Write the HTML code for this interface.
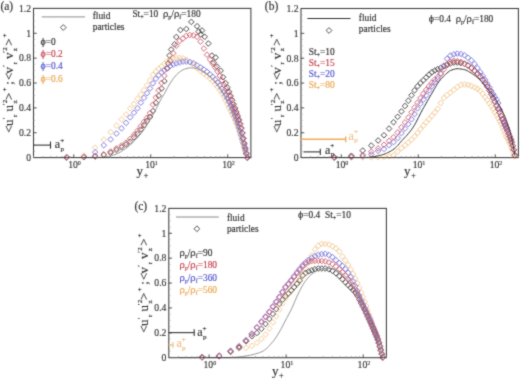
<!DOCTYPE html><html><head><meta charset="utf-8"><title>plot</title><style>
html,body{margin:0;padding:0;background:#fff;}
body{width:520px;height:380px;overflow:hidden;}
svg{display:block;}
text{font-family:"Liberation Serif",serif;fill:#333;stroke:currentColor;stroke-width:0.18px;color:#333;}
.tl{font-size:9.7px;fill:#3a3a3a;color:#3a3a3a;}
.sup{font-size:6px;}
.al{font-size:13px;fill:#333;}
.alsub{font-size:8px;}
.yl{font-size:11px;fill:#333;}
.ysup{font-size:7px;}
.ysub{font-size:7px;}
.pl{font-size:11.5px;fill:#333;}
.lg{font-size:9.4px;}
.sub{font-size:6px;}
.gr{font-family:"Liberation Sans",sans-serif;}
.ap{font-size:12px;}
.apsup{font-size:7px;}
.apsub{font-size:7px;}
</style></head><body>
<svg width="520" height="380" viewBox="0 0 520 380">
<defs><filter id="bl" x="0" y="0" width="520" height="380" filterUnits="userSpaceOnUse"><feConvolveMatrix order="3" kernelMatrix="0.0225 0.1050 0.0225 0.1050 0.4900 0.1050 0.0225 0.1050 0.0225" edgeMode="none" preserveAlpha="false"/></filter></defs>
<rect width="520" height="380" fill="#fff"/>
<g filter="url(#bl)">
<g>
<path d="M66.72 154.7L69.52 157.5L66.72 160.3L63.92 157.5Z" stroke="#f0c68c" stroke-width="0.9" fill="none"/>
<path d="M83.85 152.73L86.65 155.53L83.85 158.33L81.05 155.53Z" stroke="#f0c68c" stroke-width="0.9" fill="none"/>
<path d="M95.2 144.91L98 147.71L95.2 150.51L92.4 147.71Z" stroke="#f0c68c" stroke-width="0.9" fill="none"/>
<path d="M103.75 136.96L106.55 139.76L103.75 142.56L100.95 139.76Z" stroke="#f0c68c" stroke-width="0.9" fill="none"/>
<path d="M110.65 129.37L113.45 132.17L110.65 134.97L107.85 132.17Z" stroke="#f0c68c" stroke-width="0.9" fill="none"/>
<path d="M116.47 122.73L119.27 125.53L116.47 128.33L113.67 125.53Z" stroke="#f0c68c" stroke-width="0.9" fill="none"/>
<path d="M121.54 116.58L124.34 119.38L121.54 122.18L118.74 119.38Z" stroke="#f0c68c" stroke-width="0.9" fill="none"/>
<path d="M126.06 111.58L128.86 114.38L126.06 117.18L123.26 114.38Z" stroke="#f0c68c" stroke-width="0.9" fill="none"/>
<path d="M130.16 105.74L132.96 108.54L130.16 111.34L127.36 108.54Z" stroke="#f0c68c" stroke-width="0.9" fill="none"/>
<path d="M133.94 101.1L136.74 103.9L133.94 106.7L131.14 103.9Z" stroke="#f0c68c" stroke-width="0.9" fill="none"/>
<path d="M137.47 95.93L140.27 98.73L137.47 101.53L134.67 98.73Z" stroke="#f0c68c" stroke-width="0.9" fill="none"/>
<path d="M140.81 91.64L143.61 94.44L140.81 97.24L138.01 94.44Z" stroke="#f0c68c" stroke-width="0.9" fill="none"/>
<path d="M144 87.25L146.8 90.05L144 92.85L141.2 90.05Z" stroke="#f0c68c" stroke-width="0.9" fill="none"/>
<path d="M147.06 82.47L149.86 85.27L147.06 88.07L144.26 85.27Z" stroke="#f0c68c" stroke-width="0.9" fill="none"/>
<path d="M150.04 77.45L152.84 80.25L150.04 83.05L147.24 80.25Z" stroke="#f0c68c" stroke-width="0.9" fill="none"/>
<path d="M152.95 72.03L155.75 74.83L152.95 77.63L150.15 74.83Z" stroke="#f0c68c" stroke-width="0.9" fill="none"/>
<path d="M155.83 68.55L158.63 71.35L155.83 74.15L153.03 71.35Z" stroke="#f0c68c" stroke-width="0.9" fill="none"/>
<path d="M158.68 66L161.48 68.8L158.68 71.6L155.88 68.8Z" stroke="#f0c68c" stroke-width="0.9" fill="none"/>
<path d="M161.52 63.54L164.32 66.34L161.52 69.14L158.72 66.34Z" stroke="#f0c68c" stroke-width="0.9" fill="none"/>
<path d="M164.39 60.98L167.19 63.78L164.39 66.58L161.59 63.78Z" stroke="#f0c68c" stroke-width="0.9" fill="none"/>
<path d="M167.29 58.24L170.09 61.04L167.29 63.84L164.49 61.04Z" stroke="#f0c68c" stroke-width="0.9" fill="none"/>
<path d="M170.23 56.59L173.03 59.39L170.23 62.19L167.43 59.39Z" stroke="#f0c68c" stroke-width="0.9" fill="none"/>
<path d="M173.25 55.57L176.05 58.37L173.25 61.17L170.45 58.37Z" stroke="#f0c68c" stroke-width="0.9" fill="none"/>
<path d="M176.36 55.2L179.16 58L176.36 60.8L173.56 58Z" stroke="#f0c68c" stroke-width="0.9" fill="none"/>
<path d="M179.56 55.01L182.36 57.81L179.56 60.61L176.76 57.81Z" stroke="#f0c68c" stroke-width="0.9" fill="none"/>
<path d="M182.88 55.46L185.68 58.26L182.88 61.06L180.08 58.26Z" stroke="#f0c68c" stroke-width="0.9" fill="none"/>
<path d="M186.3 56.83L189.1 59.63L186.3 62.43L183.5 59.63Z" stroke="#f0c68c" stroke-width="0.9" fill="none"/>
<path d="M189.82 59.07L192.62 61.87L189.82 64.67L187.02 61.87Z" stroke="#f0c68c" stroke-width="0.9" fill="none"/>
<path d="M193.4 62.17L196.2 64.97L193.4 67.77L190.6 64.97Z" stroke="#f0c68c" stroke-width="0.9" fill="none"/>
<path d="M196.99 65.26L199.79 68.06L196.99 70.86L194.19 68.06Z" stroke="#f0c68c" stroke-width="0.9" fill="none"/>
<path d="M200.5 68.18L203.3 70.98L200.5 73.78L197.7 70.98Z" stroke="#f0c68c" stroke-width="0.9" fill="none"/>
<path d="M203.86 70.87L206.66 73.67L203.86 76.47L201.06 73.67Z" stroke="#f0c68c" stroke-width="0.9" fill="none"/>
<path d="M207.03 73.25L209.83 76.05L207.03 78.85L204.23 76.05Z" stroke="#f0c68c" stroke-width="0.9" fill="none"/>
<path d="M209.97 75.68L212.77 78.48L209.97 81.28L207.17 78.48Z" stroke="#f0c68c" stroke-width="0.9" fill="none"/>
<path d="M212.71 78.4L215.51 81.2L212.71 84L209.91 81.2Z" stroke="#f0c68c" stroke-width="0.9" fill="none"/>
<path d="M215.24 81.28L218.04 84.08L215.24 86.88L212.44 84.08Z" stroke="#f0c68c" stroke-width="0.9" fill="none"/>
<path d="M217.6 84.23L220.4 87.03L217.6 89.83L214.8 87.03Z" stroke="#f0c68c" stroke-width="0.9" fill="none"/>
<path d="M219.81 87.29L222.61 90.09L219.81 92.89L217.01 90.09Z" stroke="#f0c68c" stroke-width="0.9" fill="none"/>
<path d="M221.88 90.5L224.68 93.3L221.88 96.1L219.08 93.3Z" stroke="#f0c68c" stroke-width="0.9" fill="none"/>
<path d="M223.83 94.03L226.63 96.83L223.83 99.63L221.03 96.83Z" stroke="#f0c68c" stroke-width="0.9" fill="none"/>
<path d="M225.67 97.8L228.47 100.6L225.67 103.4L222.87 100.6Z" stroke="#f0c68c" stroke-width="0.9" fill="none"/>
<path d="M227.42 101.49L230.22 104.29L227.42 107.09L224.62 104.29Z" stroke="#f0c68c" stroke-width="0.9" fill="none"/>
<path d="M229.07 104.88L231.87 107.68L229.07 110.48L226.27 107.68Z" stroke="#f0c68c" stroke-width="0.9" fill="none"/>
<path d="M230.65 108.05L233.45 110.85L230.65 113.65L227.85 110.85Z" stroke="#f0c68c" stroke-width="0.9" fill="none"/>
<path d="M232.16 111.12L234.96 113.92L232.16 116.72L229.36 113.92Z" stroke="#f0c68c" stroke-width="0.9" fill="none"/>
<path d="M233.61 114.17L236.41 116.97L233.61 119.77L230.81 116.97Z" stroke="#f0c68c" stroke-width="0.9" fill="none"/>
<path d="M234.99 117.28L237.79 120.08L234.99 122.88L232.19 120.08Z" stroke="#f0c68c" stroke-width="0.9" fill="none"/>
<path d="M236.32 120.51L239.12 123.31L236.32 126.11L233.52 123.31Z" stroke="#f0c68c" stroke-width="0.9" fill="none"/>
<path d="M237.6 123.93L240.4 126.73L237.6 129.53L234.8 126.73Z" stroke="#f0c68c" stroke-width="0.9" fill="none"/>
<path d="M238.83 127.47L241.63 130.27L238.83 133.07L236.03 130.27Z" stroke="#f0c68c" stroke-width="0.9" fill="none"/>
<path d="M240.02 131.05L242.82 133.85L240.02 136.65L237.22 133.85Z" stroke="#f0c68c" stroke-width="0.9" fill="none"/>
<path d="M241.16 134.6L243.96 137.4L241.16 140.2L238.36 137.4Z" stroke="#f0c68c" stroke-width="0.9" fill="none"/>
<path d="M242.27 138.05L245.07 140.85L242.27 143.65L239.47 140.85Z" stroke="#f0c68c" stroke-width="0.9" fill="none"/>
<path d="M243.35 141.47L246.15 144.27L243.35 147.07L240.55 144.27Z" stroke="#f0c68c" stroke-width="0.9" fill="none"/>
<path d="M244.39 144.86L247.19 147.66L244.39 150.46L241.59 147.66Z" stroke="#f0c68c" stroke-width="0.9" fill="none"/>
<path d="M245.39 148.23L248.19 151.03L245.39 153.83L242.59 151.03Z" stroke="#f0c68c" stroke-width="0.9" fill="none"/>
<path d="M246.37 151.58L249.17 154.38L246.37 157.18L243.57 154.38Z" stroke="#f0c68c" stroke-width="0.9" fill="none"/>
<path d="M247.32 154.8L250.12 157.6L247.32 160.4L244.52 157.6Z" stroke="#f0c68c" stroke-width="0.9" fill="none"/>
<path d="M66.72 154.5L69.52 157.3L66.72 160.1L63.92 157.3Z" stroke="#3c3c3c" stroke-width="0.9" fill="none"/>
<path d="M83.85 154.4L86.65 157.2L83.85 160L81.05 157.2Z" stroke="#3c3c3c" stroke-width="0.9" fill="none"/>
<path d="M95.2 153.66L98 156.46L95.2 159.26L92.4 156.46Z" stroke="#3c3c3c" stroke-width="0.9" fill="none"/>
<path d="M103.75 152.12L106.55 154.92L103.75 157.72L100.95 154.92Z" stroke="#3c3c3c" stroke-width="0.9" fill="none"/>
<path d="M110.65 149.93L113.45 152.73L110.65 155.53L107.85 152.73Z" stroke="#3c3c3c" stroke-width="0.9" fill="none"/>
<path d="M116.47 147.19L119.27 149.99L116.47 152.79L113.67 149.99Z" stroke="#3c3c3c" stroke-width="0.9" fill="none"/>
<path d="M121.54 144.48L124.34 147.28L121.54 150.08L118.74 147.28Z" stroke="#3c3c3c" stroke-width="0.9" fill="none"/>
<path d="M126.06 141.79L128.86 144.59L126.06 147.39L123.26 144.59Z" stroke="#3c3c3c" stroke-width="0.9" fill="none"/>
<path d="M130.16 138.8L132.96 141.6L130.16 144.4L127.36 141.6Z" stroke="#3c3c3c" stroke-width="0.9" fill="none"/>
<path d="M133.94 134.47L136.74 137.27L133.94 140.07L131.14 137.27Z" stroke="#3c3c3c" stroke-width="0.9" fill="none"/>
<path d="M137.47 130.94L140.27 133.74L137.47 136.54L134.67 133.74Z" stroke="#3c3c3c" stroke-width="0.9" fill="none"/>
<path d="M140.81 126.62L143.61 129.42L140.81 132.22L138.01 129.42Z" stroke="#3c3c3c" stroke-width="0.9" fill="none"/>
<path d="M144 122.27L146.8 125.07L144 127.87L141.2 125.07Z" stroke="#3c3c3c" stroke-width="0.9" fill="none"/>
<path d="M147.06 118.08L149.86 120.88L147.06 123.68L144.26 120.88Z" stroke="#3c3c3c" stroke-width="0.9" fill="none"/>
<path d="M150.04 114.1L152.84 116.9L150.04 119.7L147.24 116.9Z" stroke="#3c3c3c" stroke-width="0.9" fill="none"/>
<path d="M152.95 108.22L155.75 111.02L152.95 113.82L150.15 111.02Z" stroke="#3c3c3c" stroke-width="0.9" fill="none"/>
<path d="M155.83 100.05L158.63 102.85L155.83 105.65L153.03 102.85Z" stroke="#3c3c3c" stroke-width="0.9" fill="none"/>
<path d="M158.68 93.05L161.48 95.85L158.68 98.65L155.88 95.85Z" stroke="#3c3c3c" stroke-width="0.9" fill="none"/>
<path d="M161.52 85.76L164.32 88.56L161.52 91.36L158.72 88.56Z" stroke="#3c3c3c" stroke-width="0.9" fill="none"/>
<path d="M164.39 78.37L167.19 81.17L164.39 83.97L161.59 81.17Z" stroke="#3c3c3c" stroke-width="0.9" fill="none"/>
<path d="M225.67 80.42L228.47 83.22L225.67 86.02L222.87 83.22Z" stroke="#3c3c3c" stroke-width="0.9" fill="none"/>
<path d="M227.42 84.75L230.22 87.55L227.42 90.35L224.62 87.55Z" stroke="#3c3c3c" stroke-width="0.9" fill="none"/>
<path d="M229.07 89.04L231.87 91.84L229.07 94.64L226.27 91.84Z" stroke="#3c3c3c" stroke-width="0.9" fill="none"/>
<path d="M230.65 93.25L233.45 96.05L230.65 98.85L227.85 96.05Z" stroke="#3c3c3c" stroke-width="0.9" fill="none"/>
<path d="M232.16 97.38L234.96 100.18L232.16 102.98L229.36 100.18Z" stroke="#3c3c3c" stroke-width="0.9" fill="none"/>
<path d="M233.61 101.38L236.41 104.18L233.61 106.98L230.81 104.18Z" stroke="#3c3c3c" stroke-width="0.9" fill="none"/>
<path d="M234.99 105.31L237.79 108.11L234.99 110.91L232.19 108.11Z" stroke="#3c3c3c" stroke-width="0.9" fill="none"/>
<path d="M236.32 109.21L239.12 112.01L236.32 114.81L233.52 112.01Z" stroke="#3c3c3c" stroke-width="0.9" fill="none"/>
<path d="M237.6 113.12L240.4 115.92L237.6 118.72L234.8 115.92Z" stroke="#3c3c3c" stroke-width="0.9" fill="none"/>
<path d="M238.83 116.94L241.63 119.74L238.83 122.54L236.03 119.74Z" stroke="#3c3c3c" stroke-width="0.9" fill="none"/>
<path d="M240.02 120.84L242.82 123.64L240.02 126.44L237.22 123.64Z" stroke="#3c3c3c" stroke-width="0.9" fill="none"/>
<path d="M241.16 125.06L243.96 127.86L241.16 130.66L238.36 127.86Z" stroke="#3c3c3c" stroke-width="0.9" fill="none"/>
<path d="M242.27 130.02L245.07 132.82L242.27 135.62L239.47 132.82Z" stroke="#3c3c3c" stroke-width="0.9" fill="none"/>
<path d="M243.35 135.51L246.15 138.31L243.35 141.11L240.55 138.31Z" stroke="#3c3c3c" stroke-width="0.9" fill="none"/>
<path d="M244.39 140.68L247.19 143.48L244.39 146.28L241.59 143.48Z" stroke="#3c3c3c" stroke-width="0.9" fill="none"/>
<path d="M245.39 145.58L248.19 148.38L245.39 151.18L242.59 148.38Z" stroke="#3c3c3c" stroke-width="0.9" fill="none"/>
<path d="M246.37 150.32L249.17 153.12L246.37 155.92L243.57 153.12Z" stroke="#3c3c3c" stroke-width="0.9" fill="none"/>
<path d="M247.32 154.8L250.12 157.6L247.32 160.4L244.52 157.6Z" stroke="#3c3c3c" stroke-width="0.9" fill="none"/>
<path d="M191.3 19.1L194.1 21.9L191.3 24.7L188.5 21.9Z" stroke="#3c3c3c" stroke-width="0.9" fill="none"/>
<path d="M197.1 23.4L199.9 26.2L197.1 29L194.3 26.2Z" stroke="#3c3c3c" stroke-width="0.9" fill="none"/>
<path d="M186.3 26.2L189.1 29L186.3 31.8L183.5 29Z" stroke="#3c3c3c" stroke-width="0.9" fill="none"/>
<path d="M180.4 27.2L183.2 30L180.4 32.8L177.6 30Z" stroke="#3c3c3c" stroke-width="0.9" fill="none"/>
<path d="M202 27.7L204.8 30.5L202 33.3L199.2 30.5Z" stroke="#3c3c3c" stroke-width="0.9" fill="none"/>
<path d="M198.6 28.7L201.4 31.5L198.6 34.3L195.8 31.5Z" stroke="#3c3c3c" stroke-width="0.9" fill="none"/>
<path d="M200.8 31.7L203.6 34.5L200.8 37.3L198 34.5Z" stroke="#3c3c3c" stroke-width="0.9" fill="none"/>
<path d="M204.7 34L207.5 36.8L204.7 39.6L201.9 36.8Z" stroke="#3c3c3c" stroke-width="0.9" fill="none"/>
<path d="M176.3 34.2L179.1 37L176.3 39.8L173.5 37Z" stroke="#3c3c3c" stroke-width="0.9" fill="none"/>
<path d="M208.4 40.7L211.2 43.5L208.4 46.3L205.6 43.5Z" stroke="#3c3c3c" stroke-width="0.9" fill="none"/>
<path d="M174.6 41.5L177.4 44.3L174.6 47.1L171.8 44.3Z" stroke="#3c3c3c" stroke-width="0.9" fill="none"/>
<path d="M171.2 46.7L174 49.5L171.2 52.3L168.4 49.5Z" stroke="#3c3c3c" stroke-width="0.9" fill="none"/>
<path d="M169.5 52.7L172.3 55.5L169.5 58.3L166.7 55.5Z" stroke="#3c3c3c" stroke-width="0.9" fill="none"/>
<path d="M211.9 52.8L214.7 55.6L211.9 58.4L209.1 55.6Z" stroke="#3c3c3c" stroke-width="0.9" fill="none"/>
<path d="M215.6 54.7L218.4 57.5L215.6 60.3L212.8 57.5Z" stroke="#3c3c3c" stroke-width="0.9" fill="none"/>
<path d="M213.6 59.7L216.4 62.5L213.6 65.3L210.8 62.5Z" stroke="#3c3c3c" stroke-width="0.9" fill="none"/>
<path d="M216.9 63.7L219.7 66.5L216.9 69.3L214.1 66.5Z" stroke="#3c3c3c" stroke-width="0.9" fill="none"/>
<path d="M220.6 67.9L223.4 70.7L220.6 73.5L217.8 70.7Z" stroke="#3c3c3c" stroke-width="0.9" fill="none"/>
<path d="M223 74.4L225.8 77.2L223 80L220.2 77.2Z" stroke="#3c3c3c" stroke-width="0.9" fill="none"/>
<path d="M168.2 60.7L171 63.5L168.2 66.3L165.4 63.5Z" stroke="#3c3c3c" stroke-width="0.9" fill="none"/>
<path d="M167 65.7L169.8 68.5L167 71.3L164.2 68.5Z" stroke="#3c3c3c" stroke-width="0.9" fill="none"/>
<path d="M66.72 154.7L69.52 157.5L66.72 160.3L63.92 157.5Z" stroke="#7070da" stroke-width="0.9" fill="none"/>
<path d="M83.85 154.11L86.65 156.91L83.85 159.71L81.05 156.91Z" stroke="#7070da" stroke-width="0.9" fill="none"/>
<path d="M95.2 149.47L98 152.27L95.2 155.07L92.4 152.27Z" stroke="#7070da" stroke-width="0.9" fill="none"/>
<path d="M103.75 142.46L106.55 145.26L103.75 148.06L100.95 145.26Z" stroke="#7070da" stroke-width="0.9" fill="none"/>
<path d="M110.65 136.59L113.45 139.39L110.65 142.19L107.85 139.39Z" stroke="#7070da" stroke-width="0.9" fill="none"/>
<path d="M116.47 130.75L119.27 133.55L116.47 136.35L113.67 133.55Z" stroke="#7070da" stroke-width="0.9" fill="none"/>
<path d="M121.54 125.55L124.34 128.35L121.54 131.15L118.74 128.35Z" stroke="#7070da" stroke-width="0.9" fill="none"/>
<path d="M126.06 120.06L128.86 122.86L126.06 125.66L123.26 122.86Z" stroke="#7070da" stroke-width="0.9" fill="none"/>
<path d="M130.16 114.53L132.96 117.33L130.16 120.13L127.36 117.33Z" stroke="#7070da" stroke-width="0.9" fill="none"/>
<path d="M133.94 110L136.74 112.8L133.94 115.6L131.14 112.8Z" stroke="#7070da" stroke-width="0.9" fill="none"/>
<path d="M137.47 105.49L140.27 108.29L137.47 111.09L134.67 108.29Z" stroke="#7070da" stroke-width="0.9" fill="none"/>
<path d="M140.81 99.9L143.61 102.7L140.81 105.5L138.01 102.7Z" stroke="#7070da" stroke-width="0.9" fill="none"/>
<path d="M144 95.07L146.8 97.87L144 100.67L141.2 97.87Z" stroke="#7070da" stroke-width="0.9" fill="none"/>
<path d="M147.06 90.35L149.86 93.15L147.06 95.95L144.26 93.15Z" stroke="#7070da" stroke-width="0.9" fill="none"/>
<path d="M150.04 85.63L152.84 88.43L150.04 91.23L147.24 88.43Z" stroke="#7070da" stroke-width="0.9" fill="none"/>
<path d="M152.95 80.49L155.75 83.29L152.95 86.09L150.15 83.29Z" stroke="#7070da" stroke-width="0.9" fill="none"/>
<path d="M155.83 75.98L158.63 78.78L155.83 81.58L153.03 78.78Z" stroke="#7070da" stroke-width="0.9" fill="none"/>
<path d="M158.68 72.48L161.48 75.28L158.68 78.08L155.88 75.28Z" stroke="#7070da" stroke-width="0.9" fill="none"/>
<path d="M161.52 69.67L164.32 72.47L161.52 75.27L158.72 72.47Z" stroke="#7070da" stroke-width="0.9" fill="none"/>
<path d="M164.39 67.37L167.19 70.17L164.39 72.97L161.59 70.17Z" stroke="#7070da" stroke-width="0.9" fill="none"/>
<path d="M167.29 65.27L170.09 68.07L167.29 70.87L164.49 68.07Z" stroke="#7070da" stroke-width="0.9" fill="none"/>
<path d="M170.23 63.19L173.03 65.99L170.23 68.79L167.43 65.99Z" stroke="#7070da" stroke-width="0.9" fill="none"/>
<path d="M173.25 61.71L176.05 64.51L173.25 67.31L170.45 64.51Z" stroke="#7070da" stroke-width="0.9" fill="none"/>
<path d="M176.36 60.57L179.16 63.37L176.36 66.17L173.56 63.37Z" stroke="#7070da" stroke-width="0.9" fill="none"/>
<path d="M179.56 59.58L182.36 62.38L179.56 65.18L176.76 62.38Z" stroke="#7070da" stroke-width="0.9" fill="none"/>
<path d="M182.88 58.82L185.68 61.62L182.88 64.42L180.08 61.62Z" stroke="#7070da" stroke-width="0.9" fill="none"/>
<path d="M186.3 58.8L189.1 61.6L186.3 64.4L183.5 61.6Z" stroke="#7070da" stroke-width="0.9" fill="none"/>
<path d="M189.82 59.28L192.62 62.08L189.82 64.88L187.02 62.08Z" stroke="#7070da" stroke-width="0.9" fill="none"/>
<path d="M193.4 60.4L196.2 63.2L193.4 66L190.6 63.2Z" stroke="#7070da" stroke-width="0.9" fill="none"/>
<path d="M196.99 62.47L199.79 65.27L196.99 68.07L194.19 65.27Z" stroke="#7070da" stroke-width="0.9" fill="none"/>
<path d="M200.5 64.67L203.3 67.47L200.5 70.27L197.7 67.47Z" stroke="#7070da" stroke-width="0.9" fill="none"/>
<path d="M203.86 66.69L206.66 69.49L203.86 72.29L201.06 69.49Z" stroke="#7070da" stroke-width="0.9" fill="none"/>
<path d="M207.03 68.95L209.83 71.75L207.03 74.55L204.23 71.75Z" stroke="#7070da" stroke-width="0.9" fill="none"/>
<path d="M209.97 71.52L212.77 74.32L209.97 77.12L207.17 74.32Z" stroke="#7070da" stroke-width="0.9" fill="none"/>
<path d="M212.71 74.07L215.51 76.87L212.71 79.67L209.91 76.87Z" stroke="#7070da" stroke-width="0.9" fill="none"/>
<path d="M215.24 76.72L218.04 79.52L215.24 82.32L212.44 79.52Z" stroke="#7070da" stroke-width="0.9" fill="none"/>
<path d="M217.6 79.55L220.4 82.35L217.6 85.15L214.8 82.35Z" stroke="#7070da" stroke-width="0.9" fill="none"/>
<path d="M219.81 82.61L222.61 85.41L219.81 88.21L217.01 85.41Z" stroke="#7070da" stroke-width="0.9" fill="none"/>
<path d="M221.88 85.85L224.68 88.65L221.88 91.45L219.08 88.65Z" stroke="#7070da" stroke-width="0.9" fill="none"/>
<path d="M223.83 89.15L226.63 91.95L223.83 94.75L221.03 91.95Z" stroke="#7070da" stroke-width="0.9" fill="none"/>
<path d="M225.67 92.5L228.47 95.3L225.67 98.1L222.87 95.3Z" stroke="#7070da" stroke-width="0.9" fill="none"/>
<path d="M227.42 95.84L230.22 98.64L227.42 101.44L224.62 98.64Z" stroke="#7070da" stroke-width="0.9" fill="none"/>
<path d="M229.07 99.21L231.87 102.01L229.07 104.81L226.27 102.01Z" stroke="#7070da" stroke-width="0.9" fill="none"/>
<path d="M230.65 102.66L233.45 105.46L230.65 108.26L227.85 105.46Z" stroke="#7070da" stroke-width="0.9" fill="none"/>
<path d="M232.16 106.2L234.96 109L232.16 111.8L229.36 109Z" stroke="#7070da" stroke-width="0.9" fill="none"/>
<path d="M233.61 109.8L236.41 112.6L233.61 115.4L230.81 112.6Z" stroke="#7070da" stroke-width="0.9" fill="none"/>
<path d="M234.99 113.43L237.79 116.23L234.99 119.03L232.19 116.23Z" stroke="#7070da" stroke-width="0.9" fill="none"/>
<path d="M236.32 117.11L239.12 119.91L236.32 122.71L233.52 119.91Z" stroke="#7070da" stroke-width="0.9" fill="none"/>
<path d="M237.6 120.87L240.4 123.67L237.6 126.47L234.8 123.67Z" stroke="#7070da" stroke-width="0.9" fill="none"/>
<path d="M238.83 124.69L241.63 127.49L238.83 130.29L236.03 127.49Z" stroke="#7070da" stroke-width="0.9" fill="none"/>
<path d="M240.02 128.54L242.82 131.34L240.02 134.14L237.22 131.34Z" stroke="#7070da" stroke-width="0.9" fill="none"/>
<path d="M241.16 132.36L243.96 135.16L241.16 137.96L238.36 135.16Z" stroke="#7070da" stroke-width="0.9" fill="none"/>
<path d="M242.27 136.14L245.07 138.94L242.27 141.74L239.47 138.94Z" stroke="#7070da" stroke-width="0.9" fill="none"/>
<path d="M243.35 139.91L246.15 142.71L243.35 145.51L240.55 142.71Z" stroke="#7070da" stroke-width="0.9" fill="none"/>
<path d="M244.39 143.68L247.19 146.48L244.39 149.28L241.59 146.48Z" stroke="#7070da" stroke-width="0.9" fill="none"/>
<path d="M245.39 147.44L248.19 150.24L245.39 153.04L242.59 150.24Z" stroke="#7070da" stroke-width="0.9" fill="none"/>
<path d="M246.37 151.18L249.17 153.98L246.37 156.78L243.57 153.98Z" stroke="#7070da" stroke-width="0.9" fill="none"/>
<path d="M247.32 154.8L250.12 157.6L247.32 160.4L244.52 157.6Z" stroke="#7070da" stroke-width="0.9" fill="none"/>
<path d="M66.72 154.5L69.52 157.3L66.72 160.1L63.92 157.3Z" stroke="#cc5a6a" stroke-width="0.9" fill="none"/>
<path d="M83.85 154.2L86.65 157L83.85 159.8L81.05 157Z" stroke="#cc5a6a" stroke-width="0.9" fill="none"/>
<path d="M95.2 153.15L98 155.95L95.2 158.75L92.4 155.95Z" stroke="#cc5a6a" stroke-width="0.9" fill="none"/>
<path d="M103.75 151.61L106.55 154.41L103.75 157.21L100.95 154.41Z" stroke="#cc5a6a" stroke-width="0.9" fill="none"/>
<path d="M110.65 148.69L113.45 151.49L110.65 154.29L107.85 151.49Z" stroke="#cc5a6a" stroke-width="0.9" fill="none"/>
<path d="M116.47 145.61L119.27 148.41L116.47 151.21L113.67 148.41Z" stroke="#cc5a6a" stroke-width="0.9" fill="none"/>
<path d="M121.54 142.84L124.34 145.64L121.54 148.44L118.74 145.64Z" stroke="#cc5a6a" stroke-width="0.9" fill="none"/>
<path d="M126.06 139.95L128.86 142.75L126.06 145.55L123.26 142.75Z" stroke="#cc5a6a" stroke-width="0.9" fill="none"/>
<path d="M130.16 136.16L132.96 138.96L130.16 141.76L127.36 138.96Z" stroke="#cc5a6a" stroke-width="0.9" fill="none"/>
<path d="M133.94 131.99L136.74 134.79L133.94 137.59L131.14 134.79Z" stroke="#cc5a6a" stroke-width="0.9" fill="none"/>
<path d="M137.47 127.94L140.27 130.74L137.47 133.54L134.67 130.74Z" stroke="#cc5a6a" stroke-width="0.9" fill="none"/>
<path d="M140.81 123.4L143.61 126.2L140.81 129L138.01 126.2Z" stroke="#cc5a6a" stroke-width="0.9" fill="none"/>
<path d="M144 119.04L146.8 121.84L144 124.64L141.2 121.84Z" stroke="#cc5a6a" stroke-width="0.9" fill="none"/>
<path d="M147.06 114.9L149.86 117.7L147.06 120.5L144.26 117.7Z" stroke="#cc5a6a" stroke-width="0.9" fill="none"/>
<path d="M150.04 110.16L152.84 112.96L150.04 115.76L147.24 112.96Z" stroke="#cc5a6a" stroke-width="0.9" fill="none"/>
<path d="M152.95 101.75L155.75 104.55L152.95 107.35L150.15 104.55Z" stroke="#cc5a6a" stroke-width="0.9" fill="none"/>
<path d="M155.83 94.64L158.63 97.44L155.83 100.24L153.03 97.44Z" stroke="#cc5a6a" stroke-width="0.9" fill="none"/>
<path d="M158.68 87.52L161.48 90.32L158.68 93.12L155.88 90.32Z" stroke="#cc5a6a" stroke-width="0.9" fill="none"/>
<path d="M161.52 80.07L164.32 82.87L161.52 85.67L158.72 82.87Z" stroke="#cc5a6a" stroke-width="0.9" fill="none"/>
<path d="M164.39 72.98L167.19 75.78L164.39 78.58L161.59 75.78Z" stroke="#cc5a6a" stroke-width="0.9" fill="none"/>
<path d="M167.29 65.55L170.09 68.35L167.29 71.15L164.49 68.35Z" stroke="#cc5a6a" stroke-width="0.9" fill="none"/>
<path d="M170.23 58.12L173.03 60.92L170.23 63.72L167.43 60.92Z" stroke="#cc5a6a" stroke-width="0.9" fill="none"/>
<path d="M173.25 50.44L176.05 53.24L173.25 56.04L170.45 53.24Z" stroke="#cc5a6a" stroke-width="0.9" fill="none"/>
<path d="M176.36 42.87L179.16 45.67L176.36 48.47L173.56 45.67Z" stroke="#cc5a6a" stroke-width="0.9" fill="none"/>
<path d="M179.56 38.13L182.36 40.93L179.56 43.73L176.76 40.93Z" stroke="#cc5a6a" stroke-width="0.9" fill="none"/>
<path d="M182.88 35.75L185.68 38.55L182.88 41.35L180.08 38.55Z" stroke="#cc5a6a" stroke-width="0.9" fill="none"/>
<path d="M186.3 33.14L189.1 35.94L186.3 38.74L183.5 35.94Z" stroke="#cc5a6a" stroke-width="0.9" fill="none"/>
<path d="M189.82 32.22L192.62 35.02L189.82 37.82L187.02 35.02Z" stroke="#cc5a6a" stroke-width="0.9" fill="none"/>
<path d="M193.4 32.58L196.2 35.38L193.4 38.18L190.6 35.38Z" stroke="#cc5a6a" stroke-width="0.9" fill="none"/>
<path d="M196.99 34.04L199.79 36.84L196.99 39.64L194.19 36.84Z" stroke="#cc5a6a" stroke-width="0.9" fill="none"/>
<path d="M200.5 38.79L203.3 41.59L200.5 44.39L197.7 41.59Z" stroke="#cc5a6a" stroke-width="0.9" fill="none"/>
<path d="M203.86 45.72L206.66 48.52L203.86 51.32L201.06 48.52Z" stroke="#cc5a6a" stroke-width="0.9" fill="none"/>
<path d="M207.03 51.92L209.83 54.72L207.03 57.52L204.23 54.72Z" stroke="#cc5a6a" stroke-width="0.9" fill="none"/>
<path d="M209.97 56.66L212.77 59.46L209.97 62.26L207.17 59.46Z" stroke="#cc5a6a" stroke-width="0.9" fill="none"/>
<path d="M212.71 60.82L215.51 63.62L212.71 66.42L209.91 63.62Z" stroke="#cc5a6a" stroke-width="0.9" fill="none"/>
<path d="M215.24 64.7L218.04 67.5L215.24 70.3L212.44 67.5Z" stroke="#cc5a6a" stroke-width="0.9" fill="none"/>
<path d="M217.6 68.62L220.4 71.42L217.6 74.22L214.8 71.42Z" stroke="#cc5a6a" stroke-width="0.9" fill="none"/>
<path d="M219.81 73.1L222.61 75.9L219.81 78.7L217.01 75.9Z" stroke="#cc5a6a" stroke-width="0.9" fill="none"/>
<path d="M221.88 77.54L224.68 80.34L221.88 83.14L219.08 80.34Z" stroke="#cc5a6a" stroke-width="0.9" fill="none"/>
<path d="M223.83 81.83L226.63 84.63L223.83 87.43L221.03 84.63Z" stroke="#cc5a6a" stroke-width="0.9" fill="none"/>
<path d="M225.67 85.6L228.47 88.4L225.67 91.2L222.87 88.4Z" stroke="#cc5a6a" stroke-width="0.9" fill="none"/>
<path d="M227.42 89.15L230.22 91.95L227.42 94.75L224.62 91.95Z" stroke="#cc5a6a" stroke-width="0.9" fill="none"/>
<path d="M229.07 92.87L231.87 95.67L229.07 98.47L226.27 95.67Z" stroke="#cc5a6a" stroke-width="0.9" fill="none"/>
<path d="M230.65 96.65L233.45 99.45L230.65 102.25L227.85 99.45Z" stroke="#cc5a6a" stroke-width="0.9" fill="none"/>
<path d="M232.16 100.36L234.96 103.16L232.16 105.96L229.36 103.16Z" stroke="#cc5a6a" stroke-width="0.9" fill="none"/>
<path d="M233.61 103.88L236.41 106.68L233.61 109.48L230.81 106.68Z" stroke="#cc5a6a" stroke-width="0.9" fill="none"/>
<path d="M234.99 107.29L237.79 110.09L234.99 112.89L232.19 110.09Z" stroke="#cc5a6a" stroke-width="0.9" fill="none"/>
<path d="M236.32 110.73L239.12 113.53L236.32 116.33L233.52 113.53Z" stroke="#cc5a6a" stroke-width="0.9" fill="none"/>
<path d="M237.6 114.27L240.4 117.07L237.6 119.87L234.8 117.07Z" stroke="#cc5a6a" stroke-width="0.9" fill="none"/>
<path d="M238.83 117.85L241.63 120.65L238.83 123.45L236.03 120.65Z" stroke="#cc5a6a" stroke-width="0.9" fill="none"/>
<path d="M240.02 121.59L242.82 124.39L240.02 127.19L237.22 124.39Z" stroke="#cc5a6a" stroke-width="0.9" fill="none"/>
<path d="M241.16 125.68L243.96 128.48L241.16 131.28L238.36 128.48Z" stroke="#cc5a6a" stroke-width="0.9" fill="none"/>
<path d="M242.27 130.53L245.07 133.33L242.27 136.13L239.47 133.33Z" stroke="#cc5a6a" stroke-width="0.9" fill="none"/>
<path d="M243.35 135.96L246.15 138.76L243.35 141.56L240.55 138.76Z" stroke="#cc5a6a" stroke-width="0.9" fill="none"/>
<path d="M244.39 141.04L247.19 143.84L244.39 146.64L241.59 143.84Z" stroke="#cc5a6a" stroke-width="0.9" fill="none"/>
<path d="M245.39 145.83L248.19 148.63L245.39 151.43L242.59 148.63Z" stroke="#cc5a6a" stroke-width="0.9" fill="none"/>
<path d="M246.37 150.45L249.17 153.25L246.37 156.05L243.57 153.25Z" stroke="#cc5a6a" stroke-width="0.9" fill="none"/>
<path d="M247.32 154.8L250.12 157.6L247.32 160.4L244.52 157.6Z" stroke="#cc5a6a" stroke-width="0.9" fill="none"/>
<polyline points="43.12,157.5 44.4,157.5 45.69,157.5 46.97,157.5 48.26,157.5 49.54,157.5 50.83,157.5 52.11,157.5 53.4,157.5 54.68,157.5 55.96,157.5 57.25,157.5 58.53,157.5 59.82,157.5 61.1,157.5 62.39,157.5 63.67,157.5 64.96,157.5 66.24,157.5 67.53,157.5 68.81,157.5 70.1,157.5 71.38,157.5 72.67,157.5 73.95,157.5 75.23,157.5 76.52,157.5 77.8,157.5 79.09,157.5 80.37,157.5 81.66,157.5 82.94,157.5 84.23,157.5 85.51,157.5 86.8,157.5 88.08,157.5 89.37,157.5 90.65,157.5 91.94,157.5 93.22,157.5 94.5,157.5 95.79,157.5 97.07,157.47 98.36,157.43 99.64,157.37 100.93,157.3 102.21,157.21 103.5,157.12 104.78,157.02 106.07,156.89 107.35,156.7 108.64,156.44 109.92,156.14 111.2,155.8 112.49,155.42 113.77,155.01 115.06,154.58 116.34,154.11 117.63,153.54 118.91,152.88 120.2,152.15 121.48,151.36 122.77,150.51 124.05,149.61 125.34,148.68 126.62,147.73 127.91,146.77 129.19,145.74 130.47,144.63 131.76,143.45 133.04,142.2 134.33,140.91 135.61,139.57 136.9,138.2 138.18,136.8 139.47,135.35 140.75,133.83 142.04,132.23 143.32,130.52 144.61,128.7 145.89,126.74 147.17,124.66 148.46,122.51 149.74,120.31 151.03,118.11 152.31,115.86 153.6,113.54 154.88,111.17 156.17,108.7 157.45,106.08 158.74,103.45 160.02,100.96 161.31,98.69 162.59,96.55 163.88,94.42 165.16,92.22 166.44,89.86 167.73,87.45 169.01,85.14 170.3,83.05 171.58,81.07 172.87,79.21 174.15,77.51 175.44,76.01 176.72,74.63 178.01,73.37 179.29,72.25 180.58,71.31 181.86,70.47 183.14,69.73 184.43,69.16 185.71,68.76 187,68.4 188.28,68.1 189.57,67.89 190.85,67.8 192.14,67.85 193.42,68.01 194.71,68.23 195.99,68.5 197.28,68.86 198.56,69.37 199.85,70.01 201.13,70.74 202.41,71.52 203.7,72.31 204.98,73.13 206.27,74.02 207.55,74.99 208.84,76.02 210.12,77.12 211.41,78.28 212.69,79.48 213.98,80.76 215.26,82.12 216.55,83.58 217.83,85.14 219.12,86.79 220.4,88.56 221.68,90.49 222.97,92.56 224.25,94.78 225.54,97.14 226.82,99.62 228.11,102.22 229.39,105.01 230.68,108.03 231.96,111.22 233.25,114.56 234.53,118 235.82,121.49 237.1,125.08 238.38,128.84 239.67,132.73 240.95,136.71 242.24,140.76 243.52,144.88 244.81,149.12 246.09,153.45 247.38,157.6" fill="none" stroke="#8a8a8a" stroke-width="0.9"/>
</g>
<g>
<path d="M334.22 154.8L337.02 157.6L334.22 160.4L331.42 157.6Z" stroke="#f0c68c" stroke-width="0.9" fill="none"/>
<path d="M351.35 154.72L354.15 157.52L351.35 160.32L348.55 157.52Z" stroke="#f0c68c" stroke-width="0.9" fill="none"/>
<path d="M362.7 154.6L365.5 157.4L362.7 160.2L359.9 157.4Z" stroke="#f0c68c" stroke-width="0.9" fill="none"/>
<path d="M371.25 154.46L374.05 157.26L371.25 160.06L368.45 157.26Z" stroke="#f0c68c" stroke-width="0.9" fill="none"/>
<path d="M378.15 154.27L380.95 157.07L378.15 159.87L375.35 157.07Z" stroke="#f0c68c" stroke-width="0.9" fill="none"/>
<path d="M383.97 153.97L386.77 156.77L383.97 159.57L381.17 156.77Z" stroke="#f0c68c" stroke-width="0.9" fill="none"/>
<path d="M389.04 153.4L391.84 156.2L389.04 159L386.24 156.2Z" stroke="#f0c68c" stroke-width="0.9" fill="none"/>
<path d="M393.56 152.49L396.36 155.29L393.56 158.09L390.76 155.29Z" stroke="#f0c68c" stroke-width="0.9" fill="none"/>
<path d="M397.66 148.8L400.46 151.6L397.66 154.4L394.86 151.6Z" stroke="#f0c68c" stroke-width="0.9" fill="none"/>
<path d="M401.44 145.27L404.24 148.07L401.44 150.87L398.64 148.07Z" stroke="#f0c68c" stroke-width="0.9" fill="none"/>
<path d="M404.97 142.49L407.77 145.29L404.97 148.09L402.17 145.29Z" stroke="#f0c68c" stroke-width="0.9" fill="none"/>
<path d="M408.31 139.7L411.11 142.5L408.31 145.3L405.51 142.5Z" stroke="#f0c68c" stroke-width="0.9" fill="none"/>
<path d="M411.5 136.88L414.3 139.68L411.5 142.48L408.7 139.68Z" stroke="#f0c68c" stroke-width="0.9" fill="none"/>
<path d="M414.56 133.66L417.36 136.46L414.56 139.26L411.76 136.46Z" stroke="#f0c68c" stroke-width="0.9" fill="none"/>
<path d="M417.54 130.01L420.34 132.81L417.54 135.61L414.74 132.81Z" stroke="#f0c68c" stroke-width="0.9" fill="none"/>
<path d="M420.45 126.37L423.25 129.17L420.45 131.97L417.65 129.17Z" stroke="#f0c68c" stroke-width="0.9" fill="none"/>
<path d="M423.33 122.79L426.13 125.59L423.33 128.39L420.53 125.59Z" stroke="#f0c68c" stroke-width="0.9" fill="none"/>
<path d="M426.18 119.53L428.98 122.33L426.18 125.13L423.38 122.33Z" stroke="#f0c68c" stroke-width="0.9" fill="none"/>
<path d="M429.02 116.33L431.82 119.13L429.02 121.93L426.22 119.13Z" stroke="#f0c68c" stroke-width="0.9" fill="none"/>
<path d="M431.89 113.06L434.69 115.86L431.89 118.66L429.09 115.86Z" stroke="#f0c68c" stroke-width="0.9" fill="none"/>
<path d="M434.79 109.65L437.59 112.45L434.79 115.25L431.99 112.45Z" stroke="#f0c68c" stroke-width="0.9" fill="none"/>
<path d="M437.73 105.94L440.53 108.74L437.73 111.54L434.93 108.74Z" stroke="#f0c68c" stroke-width="0.9" fill="none"/>
<path d="M440.75 100.21L443.55 103.01L440.75 105.81L437.95 103.01Z" stroke="#f0c68c" stroke-width="0.9" fill="none"/>
<path d="M443.86 95.14L446.66 97.94L443.86 100.74L441.06 97.94Z" stroke="#f0c68c" stroke-width="0.9" fill="none"/>
<path d="M447.06 92.25L449.86 95.05L447.06 97.85L444.26 95.05Z" stroke="#f0c68c" stroke-width="0.9" fill="none"/>
<path d="M450.38 89.83L453.18 92.63L450.38 95.43L447.58 92.63Z" stroke="#f0c68c" stroke-width="0.9" fill="none"/>
<path d="M453.8 87.17L456.6 89.97L453.8 92.77L451 89.97Z" stroke="#f0c68c" stroke-width="0.9" fill="none"/>
<path d="M457.32 84.24L460.12 87.04L457.32 89.84L454.52 87.04Z" stroke="#f0c68c" stroke-width="0.9" fill="none"/>
<path d="M460.9 82.04L463.7 84.84L460.9 87.64L458.1 84.84Z" stroke="#f0c68c" stroke-width="0.9" fill="none"/>
<path d="M464.49 81.71L467.29 84.51L464.49 87.31L461.69 84.51Z" stroke="#f0c68c" stroke-width="0.9" fill="none"/>
<path d="M468 82.08L470.8 84.88L468 87.68L465.2 84.88Z" stroke="#f0c68c" stroke-width="0.9" fill="none"/>
<path d="M471.36 83.16L474.16 85.96L471.36 88.76L468.56 85.96Z" stroke="#f0c68c" stroke-width="0.9" fill="none"/>
<path d="M474.53 84.67L477.33 87.47L474.53 90.27L471.73 87.47Z" stroke="#f0c68c" stroke-width="0.9" fill="none"/>
<path d="M477.47 85.93L480.27 88.73L477.47 91.53L474.67 88.73Z" stroke="#f0c68c" stroke-width="0.9" fill="none"/>
<path d="M480.21 88.06L483.01 90.86L480.21 93.66L477.41 90.86Z" stroke="#f0c68c" stroke-width="0.9" fill="none"/>
<path d="M482.74 91.17L485.54 93.97L482.74 96.77L479.94 93.97Z" stroke="#f0c68c" stroke-width="0.9" fill="none"/>
<path d="M485.1 94.29L487.9 97.09L485.1 99.89L482.3 97.09Z" stroke="#f0c68c" stroke-width="0.9" fill="none"/>
<path d="M487.31 97.29L490.11 100.09L487.31 102.89L484.51 100.09Z" stroke="#f0c68c" stroke-width="0.9" fill="none"/>
<path d="M489.38 100.32L492.18 103.12L489.38 105.92L486.58 103.12Z" stroke="#f0c68c" stroke-width="0.9" fill="none"/>
<path d="M491.33 103.33L494.13 106.13L491.33 108.93L488.53 106.13Z" stroke="#f0c68c" stroke-width="0.9" fill="none"/>
<path d="M493.17 106.32L495.97 109.12L493.17 111.92L490.37 109.12Z" stroke="#f0c68c" stroke-width="0.9" fill="none"/>
<path d="M494.92 109.3L497.72 112.1L494.92 114.9L492.12 112.1Z" stroke="#f0c68c" stroke-width="0.9" fill="none"/>
<path d="M496.57 112.28L499.37 115.08L496.57 117.88L493.77 115.08Z" stroke="#f0c68c" stroke-width="0.9" fill="none"/>
<path d="M498.15 115.27L500.95 118.07L498.15 120.87L495.35 118.07Z" stroke="#f0c68c" stroke-width="0.9" fill="none"/>
<path d="M499.66 118.27L502.46 121.07L499.66 123.87L496.86 121.07Z" stroke="#f0c68c" stroke-width="0.9" fill="none"/>
<path d="M501.11 121.29L503.91 124.09L501.11 126.89L498.31 124.09Z" stroke="#f0c68c" stroke-width="0.9" fill="none"/>
<path d="M502.49 124.33L505.29 127.13L502.49 129.93L499.69 127.13Z" stroke="#f0c68c" stroke-width="0.9" fill="none"/>
<path d="M503.82 127.53L506.62 130.33L503.82 133.13L501.02 130.33Z" stroke="#f0c68c" stroke-width="0.9" fill="none"/>
<path d="M505.1 130.66L507.9 133.46L505.1 136.26L502.3 133.46Z" stroke="#f0c68c" stroke-width="0.9" fill="none"/>
<path d="M506.33 133.48L509.13 136.28L506.33 139.08L503.53 136.28Z" stroke="#f0c68c" stroke-width="0.9" fill="none"/>
<path d="M507.52 135.91L510.32 138.71L507.52 141.51L504.72 138.71Z" stroke="#f0c68c" stroke-width="0.9" fill="none"/>
<path d="M508.66 138.14L511.46 140.94L508.66 143.74L505.86 140.94Z" stroke="#f0c68c" stroke-width="0.9" fill="none"/>
<path d="M509.77 140.4L512.57 143.2L509.77 146L506.97 143.2Z" stroke="#f0c68c" stroke-width="0.9" fill="none"/>
<path d="M510.85 142.86L513.65 145.66L510.85 148.46L508.05 145.66Z" stroke="#f0c68c" stroke-width="0.9" fill="none"/>
<path d="M511.89 145.44L514.69 148.24L511.89 151.04L509.09 148.24Z" stroke="#f0c68c" stroke-width="0.9" fill="none"/>
<path d="M512.89 148.12L515.69 150.92L512.89 153.72L510.09 150.92Z" stroke="#f0c68c" stroke-width="0.9" fill="none"/>
<path d="M513.87 150.86L516.67 153.66L513.87 156.46L511.07 153.66Z" stroke="#f0c68c" stroke-width="0.9" fill="none"/>
<path d="M514.82 153.66L517.62 156.46L514.82 159.26L512.02 156.46Z" stroke="#f0c68c" stroke-width="0.9" fill="none"/>
<path d="M334.22 154.5L337.02 157.3L334.22 160.1L331.42 157.3Z" stroke="#3c3c3c" stroke-width="0.9" fill="none"/>
<path d="M351.35 152.99L354.15 155.79L351.35 158.59L348.55 155.79Z" stroke="#3c3c3c" stroke-width="0.9" fill="none"/>
<path d="M362.7 147.8L365.5 150.6L362.7 153.4L359.9 150.6Z" stroke="#3c3c3c" stroke-width="0.9" fill="none"/>
<path d="M371.25 142.73L374.05 145.53L371.25 148.33L368.45 145.53Z" stroke="#3c3c3c" stroke-width="0.9" fill="none"/>
<path d="M378.15 137.72L380.95 140.52L378.15 143.32L375.35 140.52Z" stroke="#3c3c3c" stroke-width="0.9" fill="none"/>
<path d="M383.97 132.42L386.77 135.22L383.97 138.02L381.17 135.22Z" stroke="#3c3c3c" stroke-width="0.9" fill="none"/>
<path d="M389.04 125.79L391.84 128.59L389.04 131.39L386.24 128.59Z" stroke="#3c3c3c" stroke-width="0.9" fill="none"/>
<path d="M393.56 119.42L396.36 122.22L393.56 125.02L390.76 122.22Z" stroke="#3c3c3c" stroke-width="0.9" fill="none"/>
<path d="M397.66 113.99L400.46 116.79L397.66 119.59L394.86 116.79Z" stroke="#3c3c3c" stroke-width="0.9" fill="none"/>
<path d="M401.44 108.63L404.24 111.43L401.44 114.23L398.64 111.43Z" stroke="#3c3c3c" stroke-width="0.9" fill="none"/>
<path d="M404.97 103.18L407.77 105.98L404.97 108.78L402.17 105.98Z" stroke="#3c3c3c" stroke-width="0.9" fill="none"/>
<path d="M408.31 97.9L411.11 100.7L408.31 103.5L405.51 100.7Z" stroke="#3c3c3c" stroke-width="0.9" fill="none"/>
<path d="M411.5 92.52L414.3 95.32L411.5 98.12L408.7 95.32Z" stroke="#3c3c3c" stroke-width="0.9" fill="none"/>
<path d="M414.56 87.5L417.36 90.3L414.56 93.1L411.76 90.3Z" stroke="#3c3c3c" stroke-width="0.9" fill="none"/>
<path d="M417.54 83.47L420.34 86.27L417.54 89.07L414.74 86.27Z" stroke="#3c3c3c" stroke-width="0.9" fill="none"/>
<path d="M420.45 80.27L423.25 83.07L420.45 85.87L417.65 83.07Z" stroke="#3c3c3c" stroke-width="0.9" fill="none"/>
<path d="M423.33 77.45L426.13 80.25L423.33 83.05L420.53 80.25Z" stroke="#3c3c3c" stroke-width="0.9" fill="none"/>
<path d="M426.18 74.65L428.98 77.45L426.18 80.25L423.38 77.45Z" stroke="#3c3c3c" stroke-width="0.9" fill="none"/>
<path d="M429.02 71.87L431.82 74.67L429.02 77.47L426.22 74.67Z" stroke="#3c3c3c" stroke-width="0.9" fill="none"/>
<path d="M431.89 69.45L434.69 72.25L431.89 75.05L429.09 72.25Z" stroke="#3c3c3c" stroke-width="0.9" fill="none"/>
<path d="M434.79 67.68L437.59 70.48L434.79 73.28L431.99 70.48Z" stroke="#3c3c3c" stroke-width="0.9" fill="none"/>
<path d="M437.73 66.33L440.53 69.13L437.73 71.93L434.93 69.13Z" stroke="#3c3c3c" stroke-width="0.9" fill="none"/>
<path d="M440.75 65.08L443.55 67.88L440.75 70.68L437.95 67.88Z" stroke="#3c3c3c" stroke-width="0.9" fill="none"/>
<path d="M443.86 63.61L446.66 66.41L443.86 69.21L441.06 66.41Z" stroke="#3c3c3c" stroke-width="0.9" fill="none"/>
<path d="M447.06 62.18L449.86 64.98L447.06 67.78L444.26 64.98Z" stroke="#3c3c3c" stroke-width="0.9" fill="none"/>
<path d="M450.38 60.81L453.18 63.61L450.38 66.41L447.58 63.61Z" stroke="#3c3c3c" stroke-width="0.9" fill="none"/>
<path d="M453.8 59.79L456.6 62.59L453.8 65.39L451 62.59Z" stroke="#3c3c3c" stroke-width="0.9" fill="none"/>
<path d="M457.32 59.8L460.12 62.6L457.32 65.4L454.52 62.6Z" stroke="#3c3c3c" stroke-width="0.9" fill="none"/>
<path d="M460.9 60.3L463.7 63.1L460.9 65.9L458.1 63.1Z" stroke="#3c3c3c" stroke-width="0.9" fill="none"/>
<path d="M464.49 61.07L467.29 63.87L464.49 66.67L461.69 63.87Z" stroke="#3c3c3c" stroke-width="0.9" fill="none"/>
<path d="M468 62.52L470.8 65.32L468 68.12L465.2 65.32Z" stroke="#3c3c3c" stroke-width="0.9" fill="none"/>
<path d="M471.36 65L474.16 67.8L471.36 70.6L468.56 67.8Z" stroke="#3c3c3c" stroke-width="0.9" fill="none"/>
<path d="M474.53 67.78L477.33 70.58L474.53 73.38L471.73 70.58Z" stroke="#3c3c3c" stroke-width="0.9" fill="none"/>
<path d="M477.47 70.61L480.27 73.41L477.47 76.21L474.67 73.41Z" stroke="#3c3c3c" stroke-width="0.9" fill="none"/>
<path d="M480.21 73.73L483.01 76.53L480.21 79.33L477.41 76.53Z" stroke="#3c3c3c" stroke-width="0.9" fill="none"/>
<path d="M482.74 77.01L485.54 79.81L482.74 82.61L479.94 79.81Z" stroke="#3c3c3c" stroke-width="0.9" fill="none"/>
<path d="M485.1 80.35L487.9 83.15L485.1 85.95L482.3 83.15Z" stroke="#3c3c3c" stroke-width="0.9" fill="none"/>
<path d="M487.31 83.93L490.11 86.73L487.31 89.53L484.51 86.73Z" stroke="#3c3c3c" stroke-width="0.9" fill="none"/>
<path d="M489.38 87.74L492.18 90.54L489.38 93.34L486.58 90.54Z" stroke="#3c3c3c" stroke-width="0.9" fill="none"/>
<path d="M491.33 91.56L494.13 94.36L491.33 97.16L488.53 94.36Z" stroke="#3c3c3c" stroke-width="0.9" fill="none"/>
<path d="M493.17 95.25L495.97 98.05L493.17 100.85L490.37 98.05Z" stroke="#3c3c3c" stroke-width="0.9" fill="none"/>
<path d="M494.92 98.94L497.72 101.74L494.92 104.54L492.12 101.74Z" stroke="#3c3c3c" stroke-width="0.9" fill="none"/>
<path d="M496.57 102.59L499.37 105.39L496.57 108.19L493.77 105.39Z" stroke="#3c3c3c" stroke-width="0.9" fill="none"/>
<path d="M498.15 106.17L500.95 108.97L498.15 111.77L495.35 108.97Z" stroke="#3c3c3c" stroke-width="0.9" fill="none"/>
<path d="M499.66 109.63L502.46 112.43L499.66 115.23L496.86 112.43Z" stroke="#3c3c3c" stroke-width="0.9" fill="none"/>
<path d="M501.11 112.95L503.91 115.75L501.11 118.55L498.31 115.75Z" stroke="#3c3c3c" stroke-width="0.9" fill="none"/>
<path d="M502.49 116.09L505.29 118.89L502.49 121.69L499.69 118.89Z" stroke="#3c3c3c" stroke-width="0.9" fill="none"/>
<path d="M503.82 119.1L506.62 121.9L503.82 124.7L501.02 121.9Z" stroke="#3c3c3c" stroke-width="0.9" fill="none"/>
<path d="M505.1 122.02L507.9 124.82L505.1 127.62L502.3 124.82Z" stroke="#3c3c3c" stroke-width="0.9" fill="none"/>
<path d="M506.33 124.9L509.13 127.7L506.33 130.5L503.53 127.7Z" stroke="#3c3c3c" stroke-width="0.9" fill="none"/>
<path d="M507.52 127.79L510.32 130.59L507.52 133.39L504.72 130.59Z" stroke="#3c3c3c" stroke-width="0.9" fill="none"/>
<path d="M508.66 130.71L511.46 133.51L508.66 136.31L505.86 133.51Z" stroke="#3c3c3c" stroke-width="0.9" fill="none"/>
<path d="M509.77 133.67L512.57 136.47L509.77 139.27L506.97 136.47Z" stroke="#3c3c3c" stroke-width="0.9" fill="none"/>
<path d="M510.85 136.55L513.65 139.35L510.85 142.15L508.05 139.35Z" stroke="#3c3c3c" stroke-width="0.9" fill="none"/>
<path d="M511.89 139.51L514.69 142.31L511.89 145.11L509.09 142.31Z" stroke="#3c3c3c" stroke-width="0.9" fill="none"/>
<path d="M512.89 142.85L515.69 145.65L512.89 148.45L510.09 145.65Z" stroke="#3c3c3c" stroke-width="0.9" fill="none"/>
<path d="M513.87 146.92L516.67 149.72L513.87 152.52L511.07 149.72Z" stroke="#3c3c3c" stroke-width="0.9" fill="none"/>
<path d="M514.82 152.41L517.62 155.21L514.82 158.01L512.02 155.21Z" stroke="#3c3c3c" stroke-width="0.9" fill="none"/>
<path d="M334.22 154.7L337.02 157.5L334.22 160.3L331.42 157.5Z" stroke="#7070da" stroke-width="0.9" fill="none"/>
<path d="M351.35 154.2L354.15 157L351.35 159.8L348.55 157Z" stroke="#7070da" stroke-width="0.9" fill="none"/>
<path d="M362.7 153.2L365.5 156L362.7 158.8L359.9 156Z" stroke="#7070da" stroke-width="0.9" fill="none"/>
<path d="M371.25 151.52L374.05 154.32L371.25 157.12L368.45 154.32Z" stroke="#7070da" stroke-width="0.9" fill="none"/>
<path d="M378.15 148.07L380.95 150.87L378.15 153.67L375.35 150.87Z" stroke="#7070da" stroke-width="0.9" fill="none"/>
<path d="M383.97 146.12L386.77 148.92L383.97 151.72L381.17 148.92Z" stroke="#7070da" stroke-width="0.9" fill="none"/>
<path d="M389.04 142.31L391.84 145.11L389.04 147.91L386.24 145.11Z" stroke="#7070da" stroke-width="0.9" fill="none"/>
<path d="M393.56 139.3L396.36 142.1L393.56 144.9L390.76 142.1Z" stroke="#7070da" stroke-width="0.9" fill="none"/>
<path d="M397.66 135.3L400.46 138.1L397.66 140.9L394.86 138.1Z" stroke="#7070da" stroke-width="0.9" fill="none"/>
<path d="M401.44 130.31L404.24 133.11L401.44 135.91L398.64 133.11Z" stroke="#7070da" stroke-width="0.9" fill="none"/>
<path d="M404.97 125.72L407.77 128.52L404.97 131.32L402.17 128.52Z" stroke="#7070da" stroke-width="0.9" fill="none"/>
<path d="M408.31 121.28L411.11 124.08L408.31 126.88L405.51 124.08Z" stroke="#7070da" stroke-width="0.9" fill="none"/>
<path d="M411.5 116.4L414.3 119.2L411.5 122L408.7 119.2Z" stroke="#7070da" stroke-width="0.9" fill="none"/>
<path d="M414.56 111.21L417.36 114.01L414.56 116.81L411.76 114.01Z" stroke="#7070da" stroke-width="0.9" fill="none"/>
<path d="M417.54 105.6L420.34 108.4L417.54 111.2L414.74 108.4Z" stroke="#7070da" stroke-width="0.9" fill="none"/>
<path d="M420.45 100.88L423.25 103.68L420.45 106.48L417.65 103.68Z" stroke="#7070da" stroke-width="0.9" fill="none"/>
<path d="M423.33 96.75L426.13 99.55L423.33 102.35L420.53 99.55Z" stroke="#7070da" stroke-width="0.9" fill="none"/>
<path d="M426.18 92.66L428.98 95.46L426.18 98.26L423.38 95.46Z" stroke="#7070da" stroke-width="0.9" fill="none"/>
<path d="M429.02 87.64L431.82 90.44L429.02 93.24L426.22 90.44Z" stroke="#7070da" stroke-width="0.9" fill="none"/>
<path d="M431.89 83.31L434.69 86.11L431.89 88.91L429.09 86.11Z" stroke="#7070da" stroke-width="0.9" fill="none"/>
<path d="M434.79 79.48L437.59 82.28L434.79 85.08L431.99 82.28Z" stroke="#7070da" stroke-width="0.9" fill="none"/>
<path d="M437.73 76.2L440.53 79L437.73 81.8L434.93 79Z" stroke="#7070da" stroke-width="0.9" fill="none"/>
<path d="M440.75 70.56L443.55 73.36L440.75 76.16L437.95 73.36Z" stroke="#7070da" stroke-width="0.9" fill="none"/>
<path d="M443.86 62.86L446.66 65.66L443.86 68.46L441.06 65.66Z" stroke="#7070da" stroke-width="0.9" fill="none"/>
<path d="M447.06 55.85L449.86 58.65L447.06 61.45L444.26 58.65Z" stroke="#7070da" stroke-width="0.9" fill="none"/>
<path d="M450.38 52.75L453.18 55.55L450.38 58.35L447.58 55.55Z" stroke="#7070da" stroke-width="0.9" fill="none"/>
<path d="M453.8 51.44L456.6 54.24L453.8 57.04L451 54.24Z" stroke="#7070da" stroke-width="0.9" fill="none"/>
<path d="M457.32 50.8L460.12 53.6L457.32 56.4L454.52 53.6Z" stroke="#7070da" stroke-width="0.9" fill="none"/>
<path d="M460.9 51.16L463.7 53.96L460.9 56.76L458.1 53.96Z" stroke="#7070da" stroke-width="0.9" fill="none"/>
<path d="M464.49 52.48L467.29 55.28L464.49 58.08L461.69 55.28Z" stroke="#7070da" stroke-width="0.9" fill="none"/>
<path d="M468 54.98L470.8 57.78L468 60.58L465.2 57.78Z" stroke="#7070da" stroke-width="0.9" fill="none"/>
<path d="M471.36 57.61L474.16 60.41L471.36 63.21L468.56 60.41Z" stroke="#7070da" stroke-width="0.9" fill="none"/>
<path d="M474.53 61.15L477.33 63.95L474.53 66.75L471.73 63.95Z" stroke="#7070da" stroke-width="0.9" fill="none"/>
<path d="M477.47 65.27L480.27 68.07L477.47 70.87L474.67 68.07Z" stroke="#7070da" stroke-width="0.9" fill="none"/>
<path d="M480.21 69.39L483.01 72.19L480.21 74.99L477.41 72.19Z" stroke="#7070da" stroke-width="0.9" fill="none"/>
<path d="M482.74 73.12L485.54 75.92L482.74 78.72L479.94 75.92Z" stroke="#7070da" stroke-width="0.9" fill="none"/>
<path d="M485.1 77.09L487.9 79.89L485.1 82.69L482.3 79.89Z" stroke="#7070da" stroke-width="0.9" fill="none"/>
<path d="M487.31 81.05L490.11 83.85L487.31 86.65L484.51 83.85Z" stroke="#7070da" stroke-width="0.9" fill="none"/>
<path d="M489.38 84.73L492.18 87.53L489.38 90.33L486.58 87.53Z" stroke="#7070da" stroke-width="0.9" fill="none"/>
<path d="M491.33 88.18L494.13 90.98L491.33 93.78L488.53 90.98Z" stroke="#7070da" stroke-width="0.9" fill="none"/>
<path d="M493.17 91.42L495.97 94.22L493.17 97.02L490.37 94.22Z" stroke="#7070da" stroke-width="0.9" fill="none"/>
<path d="M494.92 94.4L497.72 97.2L494.92 100L492.12 97.2Z" stroke="#7070da" stroke-width="0.9" fill="none"/>
<path d="M496.57 96.92L499.37 99.72L496.57 102.52L493.77 99.72Z" stroke="#7070da" stroke-width="0.9" fill="none"/>
<path d="M498.15 100.22L500.95 103.02L498.15 105.82L495.35 103.02Z" stroke="#7070da" stroke-width="0.9" fill="none"/>
<path d="M499.66 106.81L502.46 109.61L499.66 112.41L496.86 109.61Z" stroke="#7070da" stroke-width="0.9" fill="none"/>
<path d="M501.11 113.04L503.91 115.84L501.11 118.64L498.31 115.84Z" stroke="#7070da" stroke-width="0.9" fill="none"/>
<path d="M502.49 117.03L505.29 119.83L502.49 122.63L499.69 119.83Z" stroke="#7070da" stroke-width="0.9" fill="none"/>
<path d="M503.82 120.27L506.62 123.07L503.82 125.87L501.02 123.07Z" stroke="#7070da" stroke-width="0.9" fill="none"/>
<path d="M505.1 123.05L507.9 125.85L505.1 128.65L502.3 125.85Z" stroke="#7070da" stroke-width="0.9" fill="none"/>
<path d="M506.33 125.61L509.13 128.41L506.33 131.21L503.53 128.41Z" stroke="#7070da" stroke-width="0.9" fill="none"/>
<path d="M507.52 128.14L510.32 130.94L507.52 133.74L504.72 130.94Z" stroke="#7070da" stroke-width="0.9" fill="none"/>
<path d="M508.66 130.79L511.46 133.59L508.66 136.39L505.86 133.59Z" stroke="#7070da" stroke-width="0.9" fill="none"/>
<path d="M509.77 133.67L512.57 136.47L509.77 139.27L506.97 136.47Z" stroke="#7070da" stroke-width="0.9" fill="none"/>
<path d="M510.85 136.55L513.65 139.35L510.85 142.15L508.05 139.35Z" stroke="#7070da" stroke-width="0.9" fill="none"/>
<path d="M511.89 139.51L514.69 142.31L511.89 145.11L509.09 142.31Z" stroke="#7070da" stroke-width="0.9" fill="none"/>
<path d="M512.89 142.85L515.69 145.65L512.89 148.45L510.09 145.65Z" stroke="#7070da" stroke-width="0.9" fill="none"/>
<path d="M513.87 146.92L516.67 149.72L513.87 152.52L511.07 149.72Z" stroke="#7070da" stroke-width="0.9" fill="none"/>
<path d="M514.82 152.41L517.62 155.21L514.82 158.01L512.02 155.21Z" stroke="#7070da" stroke-width="0.9" fill="none"/>
<path d="M334.22 154.69L337.02 157.49L334.22 160.29L331.42 157.49Z" stroke="#cc5a6a" stroke-width="0.9" fill="none"/>
<path d="M351.35 153.5L354.15 156.3L351.35 159.1L348.55 156.3Z" stroke="#cc5a6a" stroke-width="0.9" fill="none"/>
<path d="M362.7 152.2L365.5 155L362.7 157.8L359.9 155Z" stroke="#cc5a6a" stroke-width="0.9" fill="none"/>
<path d="M371.25 148.8L374.05 151.6L371.25 154.4L368.45 151.6Z" stroke="#cc5a6a" stroke-width="0.9" fill="none"/>
<path d="M378.15 145.64L380.95 148.44L378.15 151.24L375.35 148.44Z" stroke="#cc5a6a" stroke-width="0.9" fill="none"/>
<path d="M383.97 141.96L386.77 144.76L383.97 147.56L381.17 144.76Z" stroke="#cc5a6a" stroke-width="0.9" fill="none"/>
<path d="M389.04 138.03L391.84 140.83L389.04 143.63L386.24 140.83Z" stroke="#cc5a6a" stroke-width="0.9" fill="none"/>
<path d="M393.56 134.4L396.36 137.2L393.56 140L390.76 137.2Z" stroke="#cc5a6a" stroke-width="0.9" fill="none"/>
<path d="M397.66 129.63L400.46 132.43L397.66 135.23L394.86 132.43Z" stroke="#cc5a6a" stroke-width="0.9" fill="none"/>
<path d="M401.44 124.52L404.24 127.32L401.44 130.12L398.64 127.32Z" stroke="#cc5a6a" stroke-width="0.9" fill="none"/>
<path d="M404.97 119.57L407.77 122.37L404.97 125.17L402.17 122.37Z" stroke="#cc5a6a" stroke-width="0.9" fill="none"/>
<path d="M408.31 114.6L411.11 117.4L408.31 120.2L405.51 117.4Z" stroke="#cc5a6a" stroke-width="0.9" fill="none"/>
<path d="M411.5 109.53L414.3 112.33L411.5 115.13L408.7 112.33Z" stroke="#cc5a6a" stroke-width="0.9" fill="none"/>
<path d="M414.56 104.65L417.36 107.45L414.56 110.25L411.76 107.45Z" stroke="#cc5a6a" stroke-width="0.9" fill="none"/>
<path d="M417.54 99.86L420.34 102.66L417.54 105.46L414.74 102.66Z" stroke="#cc5a6a" stroke-width="0.9" fill="none"/>
<path d="M420.45 95.24L423.25 98.04L420.45 100.84L417.65 98.04Z" stroke="#cc5a6a" stroke-width="0.9" fill="none"/>
<path d="M423.33 90.98L426.13 93.78L423.33 96.58L420.53 93.78Z" stroke="#cc5a6a" stroke-width="0.9" fill="none"/>
<path d="M426.18 87.05L428.98 89.85L426.18 92.65L423.38 89.85Z" stroke="#cc5a6a" stroke-width="0.9" fill="none"/>
<path d="M429.02 83.33L431.82 86.13L429.02 88.93L426.22 86.13Z" stroke="#cc5a6a" stroke-width="0.9" fill="none"/>
<path d="M431.89 79.88L434.69 82.68L431.89 85.48L429.09 82.68Z" stroke="#cc5a6a" stroke-width="0.9" fill="none"/>
<path d="M434.79 76.84L437.59 79.64L434.79 82.44L431.99 79.64Z" stroke="#cc5a6a" stroke-width="0.9" fill="none"/>
<path d="M437.73 74.12L440.53 76.92L437.73 79.72L434.93 76.92Z" stroke="#cc5a6a" stroke-width="0.9" fill="none"/>
<path d="M440.75 71.08L443.55 73.88L440.75 76.68L437.95 73.88Z" stroke="#cc5a6a" stroke-width="0.9" fill="none"/>
<path d="M443.86 66.58L446.66 69.38L443.86 72.18L441.06 69.38Z" stroke="#cc5a6a" stroke-width="0.9" fill="none"/>
<path d="M447.06 61.27L449.86 64.07L447.06 66.87L444.26 64.07Z" stroke="#cc5a6a" stroke-width="0.9" fill="none"/>
<path d="M450.38 58.92L453.18 61.72L450.38 64.52L447.58 61.72Z" stroke="#cc5a6a" stroke-width="0.9" fill="none"/>
<path d="M453.8 58L456.6 60.8L453.8 63.6L451 60.8Z" stroke="#cc5a6a" stroke-width="0.9" fill="none"/>
<path d="M457.32 58.33L460.12 61.13L457.32 63.93L454.52 61.13Z" stroke="#cc5a6a" stroke-width="0.9" fill="none"/>
<path d="M460.9 59.16L463.7 61.96L460.9 64.76L458.1 61.96Z" stroke="#cc5a6a" stroke-width="0.9" fill="none"/>
<path d="M464.49 60.74L467.29 63.54L464.49 66.34L461.69 63.54Z" stroke="#cc5a6a" stroke-width="0.9" fill="none"/>
<path d="M468 62.83L470.8 65.63L468 68.43L465.2 65.63Z" stroke="#cc5a6a" stroke-width="0.9" fill="none"/>
<path d="M471.36 65.41L474.16 68.21L471.36 71.01L468.56 68.21Z" stroke="#cc5a6a" stroke-width="0.9" fill="none"/>
<path d="M474.53 68.34L477.33 71.14L474.53 73.94L471.73 71.14Z" stroke="#cc5a6a" stroke-width="0.9" fill="none"/>
<path d="M477.47 71.16L480.27 73.96L477.47 76.76L474.67 73.96Z" stroke="#cc5a6a" stroke-width="0.9" fill="none"/>
<path d="M480.21 74.03L483.01 76.83L480.21 79.63L477.41 76.83Z" stroke="#cc5a6a" stroke-width="0.9" fill="none"/>
<path d="M482.74 76.97L485.54 79.77L482.74 82.57L479.94 79.77Z" stroke="#cc5a6a" stroke-width="0.9" fill="none"/>
<path d="M485.1 80.11L487.9 82.91L485.1 85.71L482.3 82.91Z" stroke="#cc5a6a" stroke-width="0.9" fill="none"/>
<path d="M487.31 83.7L490.11 86.5L487.31 89.3L484.51 86.5Z" stroke="#cc5a6a" stroke-width="0.9" fill="none"/>
<path d="M489.38 87.6L492.18 90.4L489.38 93.2L486.58 90.4Z" stroke="#cc5a6a" stroke-width="0.9" fill="none"/>
<path d="M491.33 91.52L494.13 94.32L491.33 97.12L488.53 94.32Z" stroke="#cc5a6a" stroke-width="0.9" fill="none"/>
<path d="M493.17 95.27L495.97 98.07L493.17 100.87L490.37 98.07Z" stroke="#cc5a6a" stroke-width="0.9" fill="none"/>
<path d="M494.92 98.97L497.72 101.77L494.92 104.57L492.12 101.77Z" stroke="#cc5a6a" stroke-width="0.9" fill="none"/>
<path d="M496.57 102.62L499.37 105.42L496.57 108.22L493.77 105.42Z" stroke="#cc5a6a" stroke-width="0.9" fill="none"/>
<path d="M498.15 106.18L500.95 108.98L498.15 111.78L495.35 108.98Z" stroke="#cc5a6a" stroke-width="0.9" fill="none"/>
<path d="M499.66 109.63L502.46 112.43L499.66 115.23L496.86 112.43Z" stroke="#cc5a6a" stroke-width="0.9" fill="none"/>
<path d="M501.11 112.95L503.91 115.75L501.11 118.55L498.31 115.75Z" stroke="#cc5a6a" stroke-width="0.9" fill="none"/>
<path d="M502.49 116.09L505.29 118.89L502.49 121.69L499.69 118.89Z" stroke="#cc5a6a" stroke-width="0.9" fill="none"/>
<path d="M503.82 119.1L506.62 121.9L503.82 124.7L501.02 121.9Z" stroke="#cc5a6a" stroke-width="0.9" fill="none"/>
<path d="M505.1 122.02L507.9 124.82L505.1 127.62L502.3 124.82Z" stroke="#cc5a6a" stroke-width="0.9" fill="none"/>
<path d="M506.33 124.9L509.13 127.7L506.33 130.5L503.53 127.7Z" stroke="#cc5a6a" stroke-width="0.9" fill="none"/>
<path d="M507.52 127.79L510.32 130.59L507.52 133.39L504.72 130.59Z" stroke="#cc5a6a" stroke-width="0.9" fill="none"/>
<path d="M508.66 130.71L511.46 133.51L508.66 136.31L505.86 133.51Z" stroke="#cc5a6a" stroke-width="0.9" fill="none"/>
<path d="M509.77 133.67L512.57 136.47L509.77 139.27L506.97 136.47Z" stroke="#cc5a6a" stroke-width="0.9" fill="none"/>
<path d="M510.85 136.55L513.65 139.35L510.85 142.15L508.05 139.35Z" stroke="#cc5a6a" stroke-width="0.9" fill="none"/>
<path d="M511.89 139.51L514.69 142.31L511.89 145.11L509.09 142.31Z" stroke="#cc5a6a" stroke-width="0.9" fill="none"/>
<path d="M512.89 142.85L515.69 145.65L512.89 148.45L510.09 145.65Z" stroke="#cc5a6a" stroke-width="0.9" fill="none"/>
<path d="M513.87 146.92L516.67 149.72L513.87 152.52L511.07 149.72Z" stroke="#cc5a6a" stroke-width="0.9" fill="none"/>
<path d="M514.82 152.41L517.62 155.21L514.82 158.01L512.02 155.21Z" stroke="#cc5a6a" stroke-width="0.9" fill="none"/>
<polyline points="310.62,157.5 311.9,157.5 313.19,157.5 314.47,157.5 315.76,157.5 317.04,157.5 318.33,157.5 319.61,157.5 320.9,157.5 322.18,157.5 323.46,157.5 324.75,157.5 326.03,157.5 327.32,157.5 328.6,157.5 329.89,157.5 331.17,157.5 332.46,157.5 333.74,157.5 335.03,157.5 336.31,157.5 337.6,157.5 338.88,157.5 340.17,157.5 341.45,157.5 342.73,157.5 344.02,157.5 345.3,157.5 346.59,157.5 347.87,157.5 349.16,157.5 350.44,157.5 351.73,157.5 353.01,157.5 354.3,157.5 355.58,157.5 356.87,157.5 358.15,157.5 359.44,157.5 360.72,157.5 362,157.5 363.29,157.5 364.57,157.5 365.86,157.5 367.14,157.46 368.43,157.38 369.71,157.26 371,157.1 372.28,156.91 373.57,156.7 374.85,156.47 376.14,156.22 377.42,155.96 378.7,155.68 379.99,155.4 381.27,155.09 382.56,154.71 383.84,154.27 385.13,153.78 386.41,153.25 387.7,152.69 388.98,152.08 390.27,151.4 391.55,150.64 392.84,149.8 394.12,148.88 395.41,147.86 396.69,146.64 397.97,145.22 399.26,143.71 400.54,142.17 401.83,140.69 403.11,139.31 404.4,137.95 405.68,136.6 406.97,135.19 408.25,133.7 409.54,132.15 410.82,130.54 412.11,128.8 413.39,126.9 414.67,124.74 415.96,122.4 417.24,119.98 418.53,117.49 419.81,114.86 421.1,112.27 422.38,109.87 423.67,107.58 424.95,105.33 426.24,103.08 427.52,100.82 428.81,98.57 430.09,96.34 431.38,94.13 432.66,91.94 433.94,89.76 435.23,87.62 436.51,85.41 437.8,83.27 439.08,81.39 440.37,79.76 441.65,78.26 442.94,76.88 444.22,75.6 445.51,74.42 446.79,73.26 448.08,72.14 449.36,71.18 450.64,70.45 451.93,69.95 453.21,69.51 454.5,69.13 455.78,68.85 457.07,68.71 458.35,68.72 459.64,68.81 460.92,68.97 462.21,69.18 463.49,69.42 464.78,69.72 466.06,70.19 467.35,70.8 468.63,71.51 469.91,72.27 471.2,73.04 472.48,73.83 473.77,74.7 475.05,75.65 476.34,76.66 477.62,77.74 478.91,78.89 480.19,80.17 481.48,81.58 482.76,83.08 484.05,84.64 485.33,86.2 486.62,87.73 487.9,89.25 489.18,90.78 490.47,92.35 491.75,93.98 493.04,95.7 494.32,97.51 495.61,99.39 496.89,101.35 498.18,103.43 499.46,105.64 500.75,108 502.03,110.51 503.32,113.2 504.6,116.08 505.88,119.21 507.17,122.62 508.45,126.38 509.74,130.67 511.02,135.57 512.31,141.11 513.59,147.68 514.88,155.51" fill="none" stroke="#333" stroke-width="1.0"/>
</g>
<g>
<path d="M202.05 354.5L204.85 357.3L202.05 360.1L199.25 357.3Z" stroke="#f0c68c" stroke-width="0.9" fill="none"/>
<path d="M219.2 353.25L222 356.05L219.2 358.85L216.4 356.05Z" stroke="#f0c68c" stroke-width="0.9" fill="none"/>
<path d="M230.56 348.97L233.36 351.77L230.56 354.57L227.76 351.77Z" stroke="#f0c68c" stroke-width="0.9" fill="none"/>
<path d="M239.12 345.01L241.92 347.81L239.12 350.61L236.32 347.81Z" stroke="#f0c68c" stroke-width="0.9" fill="none"/>
<path d="M246.02 345.16L248.82 347.96L246.02 350.76L243.22 347.96Z" stroke="#f0c68c" stroke-width="0.9" fill="none"/>
<path d="M251.85 343.05L254.65 345.85L251.85 348.65L249.05 345.85Z" stroke="#f0c68c" stroke-width="0.9" fill="none"/>
<path d="M256.92 339.91L259.72 342.71L256.92 345.51L254.12 342.71Z" stroke="#f0c68c" stroke-width="0.9" fill="none"/>
<path d="M261.44 336.1L264.24 338.9L261.44 341.7L258.64 338.9Z" stroke="#f0c68c" stroke-width="0.9" fill="none"/>
<path d="M265.55 331.72L268.35 334.52L265.55 337.32L262.75 334.52Z" stroke="#f0c68c" stroke-width="0.9" fill="none"/>
<path d="M269.33 325.73L272.13 328.53L269.33 331.33L266.53 328.53Z" stroke="#f0c68c" stroke-width="0.9" fill="none"/>
<path d="M272.87 319.62L275.67 322.42L272.87 325.22L270.07 322.42Z" stroke="#f0c68c" stroke-width="0.9" fill="none"/>
<path d="M276.21 313.41L279.01 316.21L276.21 319.01L273.41 316.21Z" stroke="#f0c68c" stroke-width="0.9" fill="none"/>
<path d="M279.4 306.73L282.2 309.53L279.4 312.33L276.6 309.53Z" stroke="#f0c68c" stroke-width="0.9" fill="none"/>
<path d="M282.47 300.68L285.27 303.48L282.47 306.28L279.67 303.48Z" stroke="#f0c68c" stroke-width="0.9" fill="none"/>
<path d="M285.45 295.51L288.25 298.31L285.45 301.11L282.65 298.31Z" stroke="#f0c68c" stroke-width="0.9" fill="none"/>
<path d="M288.36 291.47L291.16 294.27L288.36 297.07L285.56 294.27Z" stroke="#f0c68c" stroke-width="0.9" fill="none"/>
<path d="M291.24 287.95L294.04 290.75L291.24 293.55L288.44 290.75Z" stroke="#f0c68c" stroke-width="0.9" fill="none"/>
<path d="M294.09 284.49L296.89 287.29L294.09 290.09L291.29 287.29Z" stroke="#f0c68c" stroke-width="0.9" fill="none"/>
<path d="M296.94 280.64L299.74 283.44L296.94 286.24L294.14 283.44Z" stroke="#f0c68c" stroke-width="0.9" fill="none"/>
<path d="M299.81 276.16L302.61 278.96L299.81 281.76L297.01 278.96Z" stroke="#f0c68c" stroke-width="0.9" fill="none"/>
<path d="M302.71 271.42L305.51 274.22L302.71 277.02L299.91 274.22Z" stroke="#f0c68c" stroke-width="0.9" fill="none"/>
<path d="M305.66 266.05L308.46 268.85L305.66 271.65L302.86 268.85Z" stroke="#f0c68c" stroke-width="0.9" fill="none"/>
<path d="M308.68 259.64L311.48 262.44L308.68 265.24L305.88 262.44Z" stroke="#f0c68c" stroke-width="0.9" fill="none"/>
<path d="M311.79 252.59L314.59 255.39L311.79 258.19L308.99 255.39Z" stroke="#f0c68c" stroke-width="0.9" fill="none"/>
<path d="M315 246.6L317.8 249.4L315 252.2L312.2 249.4Z" stroke="#f0c68c" stroke-width="0.9" fill="none"/>
<path d="M318.31 242.9L321.11 245.7L318.31 248.5L315.51 245.7Z" stroke="#f0c68c" stroke-width="0.9" fill="none"/>
<path d="M321.74 240.97L324.54 243.77L321.74 246.57L318.94 243.77Z" stroke="#f0c68c" stroke-width="0.9" fill="none"/>
<path d="M325.26 241.12L328.06 243.92L325.26 246.72L322.46 243.92Z" stroke="#f0c68c" stroke-width="0.9" fill="none"/>
<path d="M328.85 241.81L331.65 244.61L328.85 247.41L326.05 244.61Z" stroke="#f0c68c" stroke-width="0.9" fill="none"/>
<path d="M332.44 243.44L335.24 246.24L332.44 249.04L329.64 246.24Z" stroke="#f0c68c" stroke-width="0.9" fill="none"/>
<path d="M335.95 245.66L338.75 248.46L335.95 251.26L333.15 248.46Z" stroke="#f0c68c" stroke-width="0.9" fill="none"/>
<path d="M339.32 248.73L342.12 251.53L339.32 254.33L336.52 251.53Z" stroke="#f0c68c" stroke-width="0.9" fill="none"/>
<path d="M342.49 253.65L345.29 256.45L342.49 259.25L339.69 256.45Z" stroke="#f0c68c" stroke-width="0.9" fill="none"/>
<path d="M345.44 257.66L348.24 260.46L345.44 263.26L342.64 260.46Z" stroke="#f0c68c" stroke-width="0.9" fill="none"/>
<path d="M348.17 262.06L350.97 264.86L348.17 267.66L345.37 264.86Z" stroke="#f0c68c" stroke-width="0.9" fill="none"/>
<path d="M350.71 266.58L353.51 269.38L350.71 272.18L347.91 269.38Z" stroke="#f0c68c" stroke-width="0.9" fill="none"/>
<path d="M353.07 271.1L355.87 273.9L353.07 276.7L350.27 273.9Z" stroke="#f0c68c" stroke-width="0.9" fill="none"/>
<path d="M355.28 275.66L358.08 278.46L355.28 281.26L352.48 278.46Z" stroke="#f0c68c" stroke-width="0.9" fill="none"/>
<path d="M357.35 280.3L360.15 283.1L357.35 285.9L354.55 283.1Z" stroke="#f0c68c" stroke-width="0.9" fill="none"/>
<path d="M359.3 284.98L362.1 287.78L359.3 290.58L356.5 287.78Z" stroke="#f0c68c" stroke-width="0.9" fill="none"/>
<path d="M361.15 289.6L363.95 292.4L361.15 295.2L358.35 292.4Z" stroke="#f0c68c" stroke-width="0.9" fill="none"/>
<path d="M362.89 294.2L365.69 297L362.89 299.8L360.09 297Z" stroke="#f0c68c" stroke-width="0.9" fill="none"/>
<path d="M364.55 298.74L367.35 301.54L364.55 304.34L361.75 301.54Z" stroke="#f0c68c" stroke-width="0.9" fill="none"/>
<path d="M366.14 303.26L368.94 306.06L366.14 308.86L363.34 306.06Z" stroke="#f0c68c" stroke-width="0.9" fill="none"/>
<path d="M367.65 307.77L370.45 310.57L367.65 313.37L364.85 310.57Z" stroke="#f0c68c" stroke-width="0.9" fill="none"/>
<path d="M369.09 312.04L371.89 314.84L369.09 317.64L366.29 314.84Z" stroke="#f0c68c" stroke-width="0.9" fill="none"/>
<path d="M370.48 315.92L373.28 318.72L370.48 321.52L367.68 318.72Z" stroke="#f0c68c" stroke-width="0.9" fill="none"/>
<path d="M371.81 319.53L374.61 322.33L371.81 325.13L369.01 322.33Z" stroke="#f0c68c" stroke-width="0.9" fill="none"/>
<path d="M373.09 322.97L375.89 325.77L373.09 328.57L370.29 325.77Z" stroke="#f0c68c" stroke-width="0.9" fill="none"/>
<path d="M374.32 326.29L377.12 329.09L374.32 331.89L371.52 329.09Z" stroke="#f0c68c" stroke-width="0.9" fill="none"/>
<path d="M375.51 329.4L378.31 332.2L375.51 335L372.71 332.2Z" stroke="#f0c68c" stroke-width="0.9" fill="none"/>
<path d="M376.66 332.43L379.46 335.23L376.66 338.03L373.86 335.23Z" stroke="#f0c68c" stroke-width="0.9" fill="none"/>
<path d="M377.77 335.6L380.57 338.4L377.77 341.2L374.97 338.4Z" stroke="#f0c68c" stroke-width="0.9" fill="none"/>
<path d="M378.84 339.02L381.64 341.82L378.84 344.62L376.04 341.82Z" stroke="#f0c68c" stroke-width="0.9" fill="none"/>
<path d="M379.88 342.66L382.68 345.46L379.88 348.26L377.08 345.46Z" stroke="#f0c68c" stroke-width="0.9" fill="none"/>
<path d="M380.89 346.51L383.69 349.31L380.89 352.11L378.09 349.31Z" stroke="#f0c68c" stroke-width="0.9" fill="none"/>
<path d="M381.87 350.57L384.67 353.37L381.87 356.17L379.07 353.37Z" stroke="#f0c68c" stroke-width="0.9" fill="none"/>
<path d="M382.82 354.57L385.62 357.37L382.82 360.17L380.02 357.37Z" stroke="#f0c68c" stroke-width="0.9" fill="none"/>
<path d="M202.05 354.5L204.85 357.3L202.05 360.1L199.25 357.3Z" stroke="#3c3c3c" stroke-width="0.9" fill="none"/>
<path d="M219.2 353.44L222 356.24L219.2 359.04L216.4 356.24Z" stroke="#3c3c3c" stroke-width="0.9" fill="none"/>
<path d="M230.56 348.99L233.36 351.79L230.56 354.59L227.76 351.79Z" stroke="#3c3c3c" stroke-width="0.9" fill="none"/>
<path d="M239.12 345L241.92 347.8L239.12 350.6L236.32 347.8Z" stroke="#3c3c3c" stroke-width="0.9" fill="none"/>
<path d="M246.02 338.57L248.82 341.37L246.02 344.17L243.22 341.37Z" stroke="#3c3c3c" stroke-width="0.9" fill="none"/>
<path d="M251.85 333.39L254.65 336.19L251.85 338.99L249.05 336.19Z" stroke="#3c3c3c" stroke-width="0.9" fill="none"/>
<path d="M256.92 330.15L259.72 332.95L256.92 335.75L254.12 332.95Z" stroke="#3c3c3c" stroke-width="0.9" fill="none"/>
<path d="M261.44 325.97L264.24 328.77L261.44 331.57L258.64 328.77Z" stroke="#3c3c3c" stroke-width="0.9" fill="none"/>
<path d="M265.55 321.19L268.35 323.99L265.55 326.79L262.75 323.99Z" stroke="#3c3c3c" stroke-width="0.9" fill="none"/>
<path d="M269.33 316.12L272.13 318.92L269.33 321.72L266.53 318.92Z" stroke="#3c3c3c" stroke-width="0.9" fill="none"/>
<path d="M272.87 311.14L275.67 313.94L272.87 316.74L270.07 313.94Z" stroke="#3c3c3c" stroke-width="0.9" fill="none"/>
<path d="M276.21 306.27L279.01 309.07L276.21 311.87L273.41 309.07Z" stroke="#3c3c3c" stroke-width="0.9" fill="none"/>
<path d="M279.4 301.1L282.2 303.9L279.4 306.7L276.6 303.9Z" stroke="#3c3c3c" stroke-width="0.9" fill="none"/>
<path d="M282.47 296.8L285.27 299.6L282.47 302.4L279.67 299.6Z" stroke="#3c3c3c" stroke-width="0.9" fill="none"/>
<path d="M285.45 293.45L288.25 296.25L285.45 299.05L282.65 296.25Z" stroke="#3c3c3c" stroke-width="0.9" fill="none"/>
<path d="M288.36 290.57L291.16 293.37L288.36 296.17L285.56 293.37Z" stroke="#3c3c3c" stroke-width="0.9" fill="none"/>
<path d="M291.24 287.49L294.04 290.29L291.24 293.09L288.44 290.29Z" stroke="#3c3c3c" stroke-width="0.9" fill="none"/>
<path d="M294.09 284.31L296.89 287.11L294.09 289.91L291.29 287.11Z" stroke="#3c3c3c" stroke-width="0.9" fill="none"/>
<path d="M296.94 281.05L299.74 283.85L296.94 286.65L294.14 283.85Z" stroke="#3c3c3c" stroke-width="0.9" fill="none"/>
<path d="M299.81 277.68L302.61 280.48L299.81 283.28L297.01 280.48Z" stroke="#3c3c3c" stroke-width="0.9" fill="none"/>
<path d="M302.71 272.86L305.51 275.66L302.71 278.46L299.91 275.66Z" stroke="#3c3c3c" stroke-width="0.9" fill="none"/>
<path d="M305.66 270.05L308.46 272.85L305.66 275.65L302.86 272.85Z" stroke="#3c3c3c" stroke-width="0.9" fill="none"/>
<path d="M308.68 268.55L311.48 271.35L308.68 274.15L305.88 271.35Z" stroke="#3c3c3c" stroke-width="0.9" fill="none"/>
<path d="M311.79 267.43L314.59 270.23L311.79 273.03L308.99 270.23Z" stroke="#3c3c3c" stroke-width="0.9" fill="none"/>
<path d="M315 266.34L317.8 269.14L315 271.94L312.2 269.14Z" stroke="#3c3c3c" stroke-width="0.9" fill="none"/>
<path d="M318.31 265.71L321.11 268.51L318.31 271.31L315.51 268.51Z" stroke="#3c3c3c" stroke-width="0.9" fill="none"/>
<path d="M321.74 265.7L324.54 268.5L321.74 271.3L318.94 268.5Z" stroke="#3c3c3c" stroke-width="0.9" fill="none"/>
<path d="M325.26 265.7L328.06 268.5L325.26 271.3L322.46 268.5Z" stroke="#3c3c3c" stroke-width="0.9" fill="none"/>
<path d="M328.85 266.49L331.65 269.29L328.85 272.09L326.05 269.29Z" stroke="#3c3c3c" stroke-width="0.9" fill="none"/>
<path d="M332.44 267.99L335.24 270.79L332.44 273.59L329.64 270.79Z" stroke="#3c3c3c" stroke-width="0.9" fill="none"/>
<path d="M335.95 270.39L338.75 273.19L335.95 275.99L333.15 273.19Z" stroke="#3c3c3c" stroke-width="0.9" fill="none"/>
<path d="M339.32 273.32L342.12 276.12L339.32 278.92L336.52 276.12Z" stroke="#3c3c3c" stroke-width="0.9" fill="none"/>
<path d="M342.49 276.49L345.29 279.29L342.49 282.09L339.69 279.29Z" stroke="#3c3c3c" stroke-width="0.9" fill="none"/>
<path d="M345.44 279.53L348.24 282.33L345.44 285.13L342.64 282.33Z" stroke="#3c3c3c" stroke-width="0.9" fill="none"/>
<path d="M348.17 282.26L350.97 285.06L348.17 287.86L345.37 285.06Z" stroke="#3c3c3c" stroke-width="0.9" fill="none"/>
<path d="M350.71 284.82L353.51 287.62L350.71 290.42L347.91 287.62Z" stroke="#3c3c3c" stroke-width="0.9" fill="none"/>
<path d="M353.07 287.16L355.87 289.96L353.07 292.76L350.27 289.96Z" stroke="#3c3c3c" stroke-width="0.9" fill="none"/>
<path d="M355.28 289.64L358.08 292.44L355.28 295.24L352.48 292.44Z" stroke="#3c3c3c" stroke-width="0.9" fill="none"/>
<path d="M357.35 292.91L360.15 295.71L357.35 298.51L354.55 295.71Z" stroke="#3c3c3c" stroke-width="0.9" fill="none"/>
<path d="M359.3 296.74L362.1 299.54L359.3 302.34L356.5 299.54Z" stroke="#3c3c3c" stroke-width="0.9" fill="none"/>
<path d="M361.15 300.31L363.95 303.11L361.15 305.91L358.35 303.11Z" stroke="#3c3c3c" stroke-width="0.9" fill="none"/>
<path d="M362.89 303.68L365.69 306.48L362.89 309.28L360.09 306.48Z" stroke="#3c3c3c" stroke-width="0.9" fill="none"/>
<path d="M364.55 306.99L367.35 309.79L364.55 312.59L361.75 309.79Z" stroke="#3c3c3c" stroke-width="0.9" fill="none"/>
<path d="M366.14 310.3L368.94 313.1L366.14 315.9L363.34 313.1Z" stroke="#3c3c3c" stroke-width="0.9" fill="none"/>
<path d="M367.65 313.58L370.45 316.38L367.65 319.18L364.85 316.38Z" stroke="#3c3c3c" stroke-width="0.9" fill="none"/>
<path d="M369.09 316.79L371.89 319.59L369.09 322.39L366.29 319.59Z" stroke="#3c3c3c" stroke-width="0.9" fill="none"/>
<path d="M370.48 319.88L373.28 322.68L370.48 325.48L367.68 322.68Z" stroke="#3c3c3c" stroke-width="0.9" fill="none"/>
<path d="M371.81 322.89L374.61 325.69L371.81 328.49L369.01 325.69Z" stroke="#3c3c3c" stroke-width="0.9" fill="none"/>
<path d="M373.09 325.83L375.89 328.63L373.09 331.43L370.29 328.63Z" stroke="#3c3c3c" stroke-width="0.9" fill="none"/>
<path d="M374.32 328.71L377.12 331.51L374.32 334.31L371.52 331.51Z" stroke="#3c3c3c" stroke-width="0.9" fill="none"/>
<path d="M375.51 331.45L378.31 334.25L375.51 337.05L372.71 334.25Z" stroke="#3c3c3c" stroke-width="0.9" fill="none"/>
<path d="M376.66 334.18L379.46 336.98L376.66 339.78L373.86 336.98Z" stroke="#3c3c3c" stroke-width="0.9" fill="none"/>
<path d="M377.77 337.1L380.57 339.9L377.77 342.7L374.97 339.9Z" stroke="#3c3c3c" stroke-width="0.9" fill="none"/>
<path d="M378.84 340.43L381.64 343.23L378.84 346.03L376.04 343.23Z" stroke="#3c3c3c" stroke-width="0.9" fill="none"/>
<path d="M379.88 344.02L382.68 346.82L379.88 349.62L377.08 346.82Z" stroke="#3c3c3c" stroke-width="0.9" fill="none"/>
<path d="M380.89 347.69L383.69 350.49L380.89 353.29L378.09 350.49Z" stroke="#3c3c3c" stroke-width="0.9" fill="none"/>
<path d="M381.87 351.39L384.67 354.19L381.87 356.99L379.07 354.19Z" stroke="#3c3c3c" stroke-width="0.9" fill="none"/>
<path d="M382.82 354.64L385.62 357.44L382.82 360.24L380.02 357.44Z" stroke="#3c3c3c" stroke-width="0.9" fill="none"/>
<path d="M202.05 354.5L204.85 357.3L202.05 360.1L199.25 357.3Z" stroke="#7070da" stroke-width="0.9" fill="none"/>
<path d="M219.2 352.77L222 355.57L219.2 358.37L216.4 355.57Z" stroke="#7070da" stroke-width="0.9" fill="none"/>
<path d="M230.56 348.02L233.36 350.82L230.56 353.62L227.76 350.82Z" stroke="#7070da" stroke-width="0.9" fill="none"/>
<path d="M239.12 343.39L241.92 346.19L239.12 348.99L236.32 346.19Z" stroke="#7070da" stroke-width="0.9" fill="none"/>
<path d="M246.02 337.38L248.82 340.18L246.02 342.98L243.22 340.18Z" stroke="#7070da" stroke-width="0.9" fill="none"/>
<path d="M251.85 330.76L254.65 333.56L251.85 336.36L249.05 333.56Z" stroke="#7070da" stroke-width="0.9" fill="none"/>
<path d="M256.92 324.32L259.72 327.12L256.92 329.92L254.12 327.12Z" stroke="#7070da" stroke-width="0.9" fill="none"/>
<path d="M261.44 318.64L264.24 321.44L261.44 324.24L258.64 321.44Z" stroke="#7070da" stroke-width="0.9" fill="none"/>
<path d="M265.55 313.65L268.35 316.45L265.55 319.25L262.75 316.45Z" stroke="#7070da" stroke-width="0.9" fill="none"/>
<path d="M269.33 308.84L272.13 311.64L269.33 314.44L266.53 311.64Z" stroke="#7070da" stroke-width="0.9" fill="none"/>
<path d="M272.87 303.44L275.67 306.24L272.87 309.04L270.07 306.24Z" stroke="#7070da" stroke-width="0.9" fill="none"/>
<path d="M276.21 298.69L279.01 301.49L276.21 304.29L273.41 301.49Z" stroke="#7070da" stroke-width="0.9" fill="none"/>
<path d="M279.4 293.94L282.2 296.74L279.4 299.54L276.6 296.74Z" stroke="#7070da" stroke-width="0.9" fill="none"/>
<path d="M282.47 288.89L285.27 291.69L282.47 294.49L279.67 291.69Z" stroke="#7070da" stroke-width="0.9" fill="none"/>
<path d="M285.45 284.02L288.25 286.82L285.45 289.62L282.65 286.82Z" stroke="#7070da" stroke-width="0.9" fill="none"/>
<path d="M288.36 280.86L291.16 283.66L288.36 286.46L285.56 283.66Z" stroke="#7070da" stroke-width="0.9" fill="none"/>
<path d="M291.24 277.2L294.04 280L291.24 282.8L288.44 280Z" stroke="#7070da" stroke-width="0.9" fill="none"/>
<path d="M294.09 273.34L296.89 276.14L294.09 278.94L291.29 276.14Z" stroke="#7070da" stroke-width="0.9" fill="none"/>
<path d="M296.94 269.57L299.74 272.37L296.94 275.17L294.14 272.37Z" stroke="#7070da" stroke-width="0.9" fill="none"/>
<path d="M299.81 265.9L302.61 268.7L299.81 271.5L297.01 268.7Z" stroke="#7070da" stroke-width="0.9" fill="none"/>
<path d="M302.71 262.34L305.51 265.14L302.71 267.94L299.91 265.14Z" stroke="#7070da" stroke-width="0.9" fill="none"/>
<path d="M305.66 259.48L308.46 262.28L305.66 265.08L302.86 262.28Z" stroke="#7070da" stroke-width="0.9" fill="none"/>
<path d="M308.68 256.99L311.48 259.79L308.68 262.59L305.88 259.79Z" stroke="#7070da" stroke-width="0.9" fill="none"/>
<path d="M311.79 254.93L314.59 257.73L311.79 260.53L308.99 257.73Z" stroke="#7070da" stroke-width="0.9" fill="none"/>
<path d="M315 253.24L317.8 256.04L315 258.84L312.2 256.04Z" stroke="#7070da" stroke-width="0.9" fill="none"/>
<path d="M318.31 251.99L321.11 254.79L318.31 257.59L315.51 254.79Z" stroke="#7070da" stroke-width="0.9" fill="none"/>
<path d="M321.74 251.31L324.54 254.11L321.74 256.91L318.94 254.11Z" stroke="#7070da" stroke-width="0.9" fill="none"/>
<path d="M325.26 251L328.06 253.8L325.26 256.6L322.46 253.8Z" stroke="#7070da" stroke-width="0.9" fill="none"/>
<path d="M328.85 252.19L331.65 254.99L328.85 257.79L326.05 254.99Z" stroke="#7070da" stroke-width="0.9" fill="none"/>
<path d="M332.44 254.35L335.24 257.15L332.44 259.95L329.64 257.15Z" stroke="#7070da" stroke-width="0.9" fill="none"/>
<path d="M335.95 257.4L338.75 260.2L335.95 263L333.15 260.2Z" stroke="#7070da" stroke-width="0.9" fill="none"/>
<path d="M339.32 260.14L342.12 262.94L339.32 265.74L336.52 262.94Z" stroke="#7070da" stroke-width="0.9" fill="none"/>
<path d="M342.49 263.04L345.29 265.84L342.49 268.64L339.69 265.84Z" stroke="#7070da" stroke-width="0.9" fill="none"/>
<path d="M345.44 266.25L348.24 269.05L345.44 271.85L342.64 269.05Z" stroke="#7070da" stroke-width="0.9" fill="none"/>
<path d="M348.17 269.96L350.97 272.76L348.17 275.56L345.37 272.76Z" stroke="#7070da" stroke-width="0.9" fill="none"/>
<path d="M350.71 274.06L353.51 276.86L350.71 279.66L347.91 276.86Z" stroke="#7070da" stroke-width="0.9" fill="none"/>
<path d="M353.07 278.55L355.87 281.35L353.07 284.15L350.27 281.35Z" stroke="#7070da" stroke-width="0.9" fill="none"/>
<path d="M355.28 283.27L358.08 286.07L355.28 288.87L352.48 286.07Z" stroke="#7070da" stroke-width="0.9" fill="none"/>
<path d="M357.35 288.22L360.15 291.02L357.35 293.82L354.55 291.02Z" stroke="#7070da" stroke-width="0.9" fill="none"/>
<path d="M359.3 293.27L362.1 296.07L359.3 298.87L356.5 296.07Z" stroke="#7070da" stroke-width="0.9" fill="none"/>
<path d="M361.15 297.63L363.95 300.43L361.15 303.23L358.35 300.43Z" stroke="#7070da" stroke-width="0.9" fill="none"/>
<path d="M362.89 301.41L365.69 304.21L362.89 307.01L360.09 304.21Z" stroke="#7070da" stroke-width="0.9" fill="none"/>
<path d="M364.55 304.95L367.35 307.75L364.55 310.55L361.75 307.75Z" stroke="#7070da" stroke-width="0.9" fill="none"/>
<path d="M366.14 308.36L368.94 311.16L366.14 313.96L363.34 311.16Z" stroke="#7070da" stroke-width="0.9" fill="none"/>
<path d="M367.65 311.6L370.45 314.4L367.65 317.2L364.85 314.4Z" stroke="#7070da" stroke-width="0.9" fill="none"/>
<path d="M369.09 314.78L371.89 317.58L369.09 320.38L366.29 317.58Z" stroke="#7070da" stroke-width="0.9" fill="none"/>
<path d="M370.48 317.95L373.28 320.75L370.48 323.55L367.68 320.75Z" stroke="#7070da" stroke-width="0.9" fill="none"/>
<path d="M371.81 321.1L374.61 323.9L371.81 326.7L369.01 323.9Z" stroke="#7070da" stroke-width="0.9" fill="none"/>
<path d="M373.09 324.2L375.89 327L373.09 329.8L370.29 327Z" stroke="#7070da" stroke-width="0.9" fill="none"/>
<path d="M374.32 327.24L377.12 330.04L374.32 332.84L371.52 330.04Z" stroke="#7070da" stroke-width="0.9" fill="none"/>
<path d="M375.51 330.14L378.31 332.94L375.51 335.74L372.71 332.94Z" stroke="#7070da" stroke-width="0.9" fill="none"/>
<path d="M376.66 333.03L379.46 335.83L376.66 338.63L373.86 335.83Z" stroke="#7070da" stroke-width="0.9" fill="none"/>
<path d="M377.77 336.1L380.57 338.9L377.77 341.7L374.97 338.9Z" stroke="#7070da" stroke-width="0.9" fill="none"/>
<path d="M378.84 339.51L381.64 342.31L378.84 345.11L376.04 342.31Z" stroke="#7070da" stroke-width="0.9" fill="none"/>
<path d="M379.88 343.17L382.68 345.97L379.88 348.77L377.08 345.97Z" stroke="#7070da" stroke-width="0.9" fill="none"/>
<path d="M380.89 346.96L383.69 349.76L380.89 352.56L378.09 349.76Z" stroke="#7070da" stroke-width="0.9" fill="none"/>
<path d="M381.87 350.88L384.67 353.68L381.87 356.48L379.07 353.68Z" stroke="#7070da" stroke-width="0.9" fill="none"/>
<path d="M382.82 354.59L385.62 357.39L382.82 360.19L380.02 357.39Z" stroke="#7070da" stroke-width="0.9" fill="none"/>
<path d="M202.05 354.5L204.85 357.3L202.05 360.1L199.25 357.3Z" stroke="#cc5a6a" stroke-width="0.9" fill="none"/>
<path d="M219.2 353.06L222 355.86L219.2 358.66L216.4 355.86Z" stroke="#cc5a6a" stroke-width="0.9" fill="none"/>
<path d="M230.56 348.51L233.36 351.31L230.56 354.11L227.76 351.31Z" stroke="#cc5a6a" stroke-width="0.9" fill="none"/>
<path d="M239.12 343.89L241.92 346.69L239.12 349.49L236.32 346.69Z" stroke="#cc5a6a" stroke-width="0.9" fill="none"/>
<path d="M246.02 337.87L248.82 340.67L246.02 343.47L243.22 340.67Z" stroke="#cc5a6a" stroke-width="0.9" fill="none"/>
<path d="M251.85 331.49L254.65 334.29L251.85 337.09L249.05 334.29Z" stroke="#cc5a6a" stroke-width="0.9" fill="none"/>
<path d="M256.92 325.03L259.72 327.83L256.92 330.63L254.12 327.83Z" stroke="#cc5a6a" stroke-width="0.9" fill="none"/>
<path d="M261.44 319.44L264.24 322.24L261.44 325.04L258.64 322.24Z" stroke="#cc5a6a" stroke-width="0.9" fill="none"/>
<path d="M265.55 314.41L268.35 317.21L265.55 320.01L262.75 317.21Z" stroke="#cc5a6a" stroke-width="0.9" fill="none"/>
<path d="M269.33 309.54L272.13 312.34L269.33 315.14L266.53 312.34Z" stroke="#cc5a6a" stroke-width="0.9" fill="none"/>
<path d="M272.87 304.23L275.67 307.03L272.87 309.83L270.07 307.03Z" stroke="#cc5a6a" stroke-width="0.9" fill="none"/>
<path d="M276.21 299.42L279.01 302.22L276.21 305.02L273.41 302.22Z" stroke="#cc5a6a" stroke-width="0.9" fill="none"/>
<path d="M279.4 294.68L282.2 297.48L279.4 300.28L276.6 297.48Z" stroke="#cc5a6a" stroke-width="0.9" fill="none"/>
<path d="M282.47 289.7L285.27 292.5L282.47 295.3L279.67 292.5Z" stroke="#cc5a6a" stroke-width="0.9" fill="none"/>
<path d="M285.45 284.82L288.25 287.62L285.45 290.42L282.65 287.62Z" stroke="#cc5a6a" stroke-width="0.9" fill="none"/>
<path d="M288.36 281.66L291.16 284.46L288.36 287.26L285.56 284.46Z" stroke="#cc5a6a" stroke-width="0.9" fill="none"/>
<path d="M291.24 277.98L294.04 280.78L291.24 283.58L288.44 280.78Z" stroke="#cc5a6a" stroke-width="0.9" fill="none"/>
<path d="M294.09 274.23L296.89 277.03L294.09 279.83L291.29 277.03Z" stroke="#cc5a6a" stroke-width="0.9" fill="none"/>
<path d="M296.94 270.74L299.74 273.54L296.94 276.34L294.14 273.54Z" stroke="#cc5a6a" stroke-width="0.9" fill="none"/>
<path d="M299.81 267.29L302.61 270.09L299.81 272.89L297.01 270.09Z" stroke="#cc5a6a" stroke-width="0.9" fill="none"/>
<path d="M302.71 263.88L305.51 266.68L302.71 269.48L299.91 266.68Z" stroke="#cc5a6a" stroke-width="0.9" fill="none"/>
<path d="M305.66 261.01L308.46 263.81L305.66 266.61L302.86 263.81Z" stroke="#cc5a6a" stroke-width="0.9" fill="none"/>
<path d="M308.68 258.72L311.48 261.52L308.68 264.32L305.88 261.52Z" stroke="#cc5a6a" stroke-width="0.9" fill="none"/>
<path d="M311.79 258.27L314.59 261.07L311.79 263.87L308.99 261.07Z" stroke="#cc5a6a" stroke-width="0.9" fill="none"/>
<path d="M315 258.06L317.8 260.86L315 263.66L312.2 260.86Z" stroke="#cc5a6a" stroke-width="0.9" fill="none"/>
<path d="M318.31 258L321.11 260.8L318.31 263.6L315.51 260.8Z" stroke="#cc5a6a" stroke-width="0.9" fill="none"/>
<path d="M321.74 258.17L324.54 260.97L321.74 263.77L318.94 260.97Z" stroke="#cc5a6a" stroke-width="0.9" fill="none"/>
<path d="M325.26 258.55L328.06 261.35L325.26 264.15L322.46 261.35Z" stroke="#cc5a6a" stroke-width="0.9" fill="none"/>
<path d="M328.85 259.54L331.65 262.34L328.85 265.14L326.05 262.34Z" stroke="#cc5a6a" stroke-width="0.9" fill="none"/>
<path d="M332.44 261.16L335.24 263.96L332.44 266.76L329.64 263.96Z" stroke="#cc5a6a" stroke-width="0.9" fill="none"/>
<path d="M335.95 263.71L338.75 266.51L335.95 269.31L333.15 266.51Z" stroke="#cc5a6a" stroke-width="0.9" fill="none"/>
<path d="M339.32 266.52L342.12 269.32L339.32 272.12L336.52 269.32Z" stroke="#cc5a6a" stroke-width="0.9" fill="none"/>
<path d="M342.49 269.58L345.29 272.38L342.49 275.18L339.69 272.38Z" stroke="#cc5a6a" stroke-width="0.9" fill="none"/>
<path d="M345.44 272.78L348.24 275.58L345.44 278.38L342.64 275.58Z" stroke="#cc5a6a" stroke-width="0.9" fill="none"/>
<path d="M348.17 276.09L350.97 278.89L348.17 281.69L345.37 278.89Z" stroke="#cc5a6a" stroke-width="0.9" fill="none"/>
<path d="M350.71 279.49L353.51 282.29L350.71 285.09L347.91 282.29Z" stroke="#cc5a6a" stroke-width="0.9" fill="none"/>
<path d="M353.07 282.89L355.87 285.69L353.07 288.49L350.27 285.69Z" stroke="#cc5a6a" stroke-width="0.9" fill="none"/>
<path d="M355.28 286.45L358.08 289.25L355.28 292.05L352.48 289.25Z" stroke="#cc5a6a" stroke-width="0.9" fill="none"/>
<path d="M357.35 290.56L360.15 293.36L357.35 296.16L354.55 293.36Z" stroke="#cc5a6a" stroke-width="0.9" fill="none"/>
<path d="M359.3 295L362.1 297.8L359.3 300.6L356.5 297.8Z" stroke="#cc5a6a" stroke-width="0.9" fill="none"/>
<path d="M361.15 298.97L363.95 301.77L361.15 304.57L358.35 301.77Z" stroke="#cc5a6a" stroke-width="0.9" fill="none"/>
<path d="M362.89 302.55L365.69 305.35L362.89 308.15L360.09 305.35Z" stroke="#cc5a6a" stroke-width="0.9" fill="none"/>
<path d="M364.55 305.97L367.35 308.77L364.55 311.57L361.75 308.77Z" stroke="#cc5a6a" stroke-width="0.9" fill="none"/>
<path d="M366.14 309.34L368.94 312.14L366.14 314.94L363.34 312.14Z" stroke="#cc5a6a" stroke-width="0.9" fill="none"/>
<path d="M367.65 312.61L370.45 315.41L367.65 318.21L364.85 315.41Z" stroke="#cc5a6a" stroke-width="0.9" fill="none"/>
<path d="M369.09 315.79L371.89 318.59L369.09 321.39L366.29 318.59Z" stroke="#cc5a6a" stroke-width="0.9" fill="none"/>
<path d="M370.48 318.87L373.28 321.67L370.48 324.47L367.68 321.67Z" stroke="#cc5a6a" stroke-width="0.9" fill="none"/>
<path d="M371.81 321.85L374.61 324.65L371.81 327.45L369.01 324.65Z" stroke="#cc5a6a" stroke-width="0.9" fill="none"/>
<path d="M373.09 324.79L375.89 327.59L373.09 330.39L370.29 327.59Z" stroke="#cc5a6a" stroke-width="0.9" fill="none"/>
<path d="M374.32 327.73L377.12 330.53L374.32 333.33L371.52 330.53Z" stroke="#cc5a6a" stroke-width="0.9" fill="none"/>
<path d="M375.51 330.61L378.31 333.41L375.51 336.21L372.71 333.41Z" stroke="#cc5a6a" stroke-width="0.9" fill="none"/>
<path d="M376.66 333.52L379.46 336.32L376.66 339.12L373.86 336.32Z" stroke="#cc5a6a" stroke-width="0.9" fill="none"/>
<path d="M377.77 336.6L380.57 339.4L377.77 342.2L374.97 339.4Z" stroke="#cc5a6a" stroke-width="0.9" fill="none"/>
<path d="M378.84 340.03L381.64 342.83L378.84 345.63L376.04 342.83Z" stroke="#cc5a6a" stroke-width="0.9" fill="none"/>
<path d="M379.88 343.7L382.68 346.5L379.88 349.3L377.08 346.5Z" stroke="#cc5a6a" stroke-width="0.9" fill="none"/>
<path d="M380.89 347.38L383.69 350.18L380.89 352.98L378.09 350.18Z" stroke="#cc5a6a" stroke-width="0.9" fill="none"/>
<path d="M381.87 351.09L384.67 353.89L381.87 356.69L379.07 353.89Z" stroke="#cc5a6a" stroke-width="0.9" fill="none"/>
<path d="M382.82 354.61L385.62 357.41L382.82 360.21L380.02 357.41Z" stroke="#cc5a6a" stroke-width="0.9" fill="none"/>
<polyline points="178.43,357.6 179.71,357.6 181,357.6 182.28,357.6 183.57,357.6 184.86,357.6 186.14,357.6 187.43,357.6 188.71,357.6 190,357.6 191.29,357.6 192.57,357.6 193.86,357.6 195.14,357.6 196.43,357.6 197.71,357.6 199,357.6 200.29,357.6 201.57,357.6 202.86,357.6 204.14,357.6 205.43,357.6 206.72,357.6 208,357.6 209.29,357.6 210.57,357.6 211.86,357.6 213.14,357.6 214.43,357.6 215.72,357.6 217,357.6 218.29,357.6 219.57,357.6 220.86,357.6 222.15,357.6 223.43,357.6 224.72,357.6 226,357.6 227.29,357.6 228.57,357.6 229.86,357.6 231.15,357.55 232.43,357.48 233.72,357.39 235,357.29 236.29,357.17 237.58,357.03 238.86,356.88 240.15,356.73 241.43,356.56 242.72,356.39 244,356.22 245.29,356.03 246.58,355.83 247.86,355.61 249.15,355.37 250.43,355.11 251.72,354.84 253.01,354.53 254.29,354.21 255.58,353.85 256.86,353.47 258.15,353.06 259.43,352.61 260.72,352.13 262.01,351.61 263.29,350.94 264.58,350.08 265.86,349.05 267.15,347.88 268.44,346.59 269.72,345.22 271.01,343.78 272.29,342.3 273.58,340.78 274.86,339.07 276.15,337.17 277.44,335.14 278.72,333.01 280.01,330.83 281.29,328.54 282.58,326.06 283.87,323.51 285.15,321.01 286.44,318.62 287.72,316.26 289.01,313.88 290.29,311.41 291.58,308.79 292.87,305.93 294.15,302.92 295.44,299.89 296.72,296.94 298.01,294.18 299.3,291.64 300.58,289.15 301.87,286.74 303.15,284.48 304.44,282.41 305.72,280.6 307.01,278.99 308.3,277.48 309.58,276.1 310.87,274.85 312.15,273.78 313.44,272.88 314.73,272.06 316.01,271.31 317.3,270.64 318.58,270.08 319.87,269.65 321.15,269.36 322.44,269.11 323.73,268.88 325.01,268.69 326.3,268.56 327.58,268.5 328.87,268.52 330.16,268.62 331.44,268.78 332.73,269 334.01,269.25 335.3,269.52 336.58,269.93 337.87,270.53 339.16,271.29 340.44,272.18 341.73,273.18 343.01,274.26 344.3,275.38 345.59,276.54 346.87,277.88 348.16,279.4 349.44,281.08 350.73,282.89 352.01,284.81 353.3,286.8 354.59,288.85 355.87,290.94 357.16,293.2 358.44,295.61 359.73,298.14 361.02,300.77 362.3,303.47 363.59,306.21 364.87,308.94 366.16,311.68 367.44,314.45 368.73,317.27 370.02,320.16 371.3,323.13 372.59,326.21 373.87,329.42 375.16,332.78 376.44,336.34 377.73,340.09 379.02,344.05 380.3,348.29 381.59,352.82 382.87,357.6" fill="none" stroke="#8a8a8a" stroke-width="0.9"/>
</g>
<rect x="33.5" y="8.4" width="217.4" height="149.2" fill="none" stroke="#3c3c3c" stroke-width="1.05"/>
<line x1="33.5" y1="151.38" x2="35.1" y2="151.38" stroke="#9a9a9a" stroke-width="0.7"/>
<line x1="33.5" y1="145.17" x2="35.1" y2="145.17" stroke="#9a9a9a" stroke-width="0.7"/>
<line x1="33.5" y1="138.95" x2="35.1" y2="138.95" stroke="#9a9a9a" stroke-width="0.7"/>
<line x1="33.5" y1="132.73" x2="36.7" y2="132.73" stroke="#3c3c3c" stroke-width="0.9"/>
<line x1="33.5" y1="126.52" x2="35.1" y2="126.52" stroke="#9a9a9a" stroke-width="0.7"/>
<line x1="33.5" y1="120.3" x2="35.1" y2="120.3" stroke="#9a9a9a" stroke-width="0.7"/>
<line x1="33.5" y1="114.08" x2="35.1" y2="114.08" stroke="#9a9a9a" stroke-width="0.7"/>
<line x1="33.5" y1="107.87" x2="36.7" y2="107.87" stroke="#3c3c3c" stroke-width="0.9"/>
<line x1="33.5" y1="101.65" x2="35.1" y2="101.65" stroke="#9a9a9a" stroke-width="0.7"/>
<line x1="33.5" y1="95.43" x2="35.1" y2="95.43" stroke="#9a9a9a" stroke-width="0.7"/>
<line x1="33.5" y1="89.22" x2="35.1" y2="89.22" stroke="#9a9a9a" stroke-width="0.7"/>
<line x1="33.5" y1="83" x2="36.7" y2="83" stroke="#3c3c3c" stroke-width="0.9"/>
<line x1="33.5" y1="76.78" x2="35.1" y2="76.78" stroke="#9a9a9a" stroke-width="0.7"/>
<line x1="33.5" y1="70.57" x2="35.1" y2="70.57" stroke="#9a9a9a" stroke-width="0.7"/>
<line x1="33.5" y1="64.35" x2="35.1" y2="64.35" stroke="#9a9a9a" stroke-width="0.7"/>
<line x1="33.5" y1="58.13" x2="36.7" y2="58.13" stroke="#3c3c3c" stroke-width="0.9"/>
<line x1="33.5" y1="51.92" x2="35.1" y2="51.92" stroke="#9a9a9a" stroke-width="0.7"/>
<line x1="33.5" y1="45.7" x2="35.1" y2="45.7" stroke="#9a9a9a" stroke-width="0.7"/>
<line x1="33.5" y1="39.48" x2="35.1" y2="39.48" stroke="#9a9a9a" stroke-width="0.7"/>
<line x1="33.5" y1="33.27" x2="36.7" y2="33.27" stroke="#3c3c3c" stroke-width="0.9"/>
<line x1="33.5" y1="27.05" x2="35.1" y2="27.05" stroke="#9a9a9a" stroke-width="0.7"/>
<line x1="33.5" y1="20.83" x2="35.1" y2="20.83" stroke="#9a9a9a" stroke-width="0.7"/>
<line x1="33.5" y1="14.62" x2="35.1" y2="14.62" stroke="#9a9a9a" stroke-width="0.7"/>
<line x1="33.5" y1="157.6" x2="33.5" y2="156" stroke="#8a8a8a" stroke-width="0.8"/>
<line x1="43.12" y1="157.6" x2="43.12" y2="156" stroke="#8a8a8a" stroke-width="0.8"/>
<line x1="50.58" y1="157.6" x2="50.58" y2="156" stroke="#8a8a8a" stroke-width="0.8"/>
<line x1="56.67" y1="157.6" x2="56.67" y2="156" stroke="#8a8a8a" stroke-width="0.8"/>
<line x1="61.83" y1="157.6" x2="61.83" y2="156" stroke="#8a8a8a" stroke-width="0.8"/>
<line x1="66.29" y1="157.6" x2="66.29" y2="156" stroke="#8a8a8a" stroke-width="0.8"/>
<line x1="70.23" y1="157.6" x2="70.23" y2="156" stroke="#8a8a8a" stroke-width="0.8"/>
<line x1="73.75" y1="157.6" x2="73.75" y2="154.4" stroke="#3c3c3c" stroke-width="0.9"/>
<line x1="96.93" y1="157.6" x2="96.93" y2="156" stroke="#8a8a8a" stroke-width="0.8"/>
<line x1="110.49" y1="157.6" x2="110.49" y2="156" stroke="#8a8a8a" stroke-width="0.8"/>
<line x1="120.1" y1="157.6" x2="120.1" y2="156" stroke="#8a8a8a" stroke-width="0.8"/>
<line x1="127.56" y1="157.6" x2="127.56" y2="156" stroke="#8a8a8a" stroke-width="0.8"/>
<line x1="133.66" y1="157.6" x2="133.66" y2="156" stroke="#8a8a8a" stroke-width="0.8"/>
<line x1="138.81" y1="157.6" x2="138.81" y2="156" stroke="#8a8a8a" stroke-width="0.8"/>
<line x1="143.28" y1="157.6" x2="143.28" y2="156" stroke="#8a8a8a" stroke-width="0.8"/>
<line x1="147.22" y1="157.6" x2="147.22" y2="156" stroke="#8a8a8a" stroke-width="0.8"/>
<line x1="150.74" y1="157.6" x2="150.74" y2="154.4" stroke="#3c3c3c" stroke-width="0.9"/>
<line x1="173.91" y1="157.6" x2="173.91" y2="156" stroke="#8a8a8a" stroke-width="0.8"/>
<line x1="187.47" y1="157.6" x2="187.47" y2="156" stroke="#8a8a8a" stroke-width="0.8"/>
<line x1="197.09" y1="157.6" x2="197.09" y2="156" stroke="#8a8a8a" stroke-width="0.8"/>
<line x1="204.55" y1="157.6" x2="204.55" y2="156" stroke="#8a8a8a" stroke-width="0.8"/>
<line x1="210.65" y1="157.6" x2="210.65" y2="156" stroke="#8a8a8a" stroke-width="0.8"/>
<line x1="215.8" y1="157.6" x2="215.8" y2="156" stroke="#8a8a8a" stroke-width="0.8"/>
<line x1="220.26" y1="157.6" x2="220.26" y2="156" stroke="#8a8a8a" stroke-width="0.8"/>
<line x1="224.2" y1="157.6" x2="224.2" y2="156" stroke="#8a8a8a" stroke-width="0.8"/>
<line x1="227.73" y1="157.6" x2="227.73" y2="154.4" stroke="#3c3c3c" stroke-width="0.9"/>
<line x1="250.9" y1="157.6" x2="250.9" y2="156" stroke="#8a8a8a" stroke-width="0.8"/>
<text x="31.1" y="160.9" class="tl" text-anchor="end">0</text>
<text x="31.1" y="136.03" class="tl" text-anchor="end">0.2</text>
<text x="31.1" y="111.17" class="tl" text-anchor="end">0.4</text>
<text x="31.1" y="86.3" class="tl" text-anchor="end">0.6</text>
<text x="31.1" y="61.43" class="tl" text-anchor="end">0.8</text>
<text x="31.1" y="36.57" class="tl" text-anchor="end">1</text>
<text x="31.1" y="11.7" class="tl" text-anchor="end">1.2</text>
<text x="68.15" y="168.2" class="tl">10<tspan class="sup" dy="-3.6">0</tspan></text>
<text x="145.14" y="168.2" class="tl">10<tspan class="sup" dy="-3.6">1</tspan></text>
<text x="222.13" y="168.2" class="tl">10<tspan class="sup" dy="-3.6">2</tspan></text>
<text x="136.54" y="174.9" class="al">y<tspan class="alsub" dx="0.6" dy="2.6">+</tspan></text>
<g class="yl" transform="translate(13 132) rotate(-90)"><text x="3" y="0" text-anchor="middle" style="font-size:13px">&lt;</text><text x="9.2" y="0" text-anchor="middle" style="font-size:13px">u</text><text x="13.6" y="-6" text-anchor="middle" style="font-size:7px">′</text><text x="16.3" y="3.6" text-anchor="middle" style="font-size:7px">r</text><text x="23.8" y="0" text-anchor="middle" style="font-size:13px">u</text><text x="27.6" y="-6" text-anchor="middle" style="font-size:7px">′</text><text x="30.6" y="-6" text-anchor="middle" style="font-size:7px">2</text><text x="30" y="3.6" text-anchor="middle" style="font-size:7px">z</text><text x="35.8" y="0" text-anchor="middle" style="font-size:13px">&gt;</text><text x="42.4" y="-6.2" text-anchor="middle" style="font-size:7px">+</text><text x="49.2" y="0" text-anchor="middle" style="font-size:13px">;</text><text x="55.7" y="0" text-anchor="middle" style="font-size:13px">&lt;</text><text x="61.7" y="0" text-anchor="middle" style="font-size:13px">v</text><text x="66" y="-6" text-anchor="middle" style="font-size:7px">′</text><text x="68.9" y="3.6" text-anchor="middle" style="font-size:7px">r</text><text x="76.2" y="0" text-anchor="middle" style="font-size:13px">v</text><text x="80" y="-6" text-anchor="middle" style="font-size:7px">′</text><text x="83" y="-6" text-anchor="middle" style="font-size:7px">2</text><text x="82.4" y="3.6" text-anchor="middle" style="font-size:7px">z</text><text x="90" y="0" text-anchor="middle" style="font-size:13px">&gt;</text><text x="96.4" y="-6.2" text-anchor="middle" style="font-size:7px">+</text></g>
<rect x="301" y="8.5" width="217.4" height="149.1" fill="none" stroke="#3c3c3c" stroke-width="1.05"/>
<line x1="301" y1="151.39" x2="302.6" y2="151.39" stroke="#9a9a9a" stroke-width="0.7"/>
<line x1="301" y1="145.17" x2="302.6" y2="145.17" stroke="#9a9a9a" stroke-width="0.7"/>
<line x1="301" y1="138.96" x2="302.6" y2="138.96" stroke="#9a9a9a" stroke-width="0.7"/>
<line x1="301" y1="132.75" x2="304.2" y2="132.75" stroke="#3c3c3c" stroke-width="0.9"/>
<line x1="301" y1="126.54" x2="302.6" y2="126.54" stroke="#9a9a9a" stroke-width="0.7"/>
<line x1="301" y1="120.32" x2="302.6" y2="120.32" stroke="#9a9a9a" stroke-width="0.7"/>
<line x1="301" y1="114.11" x2="302.6" y2="114.11" stroke="#9a9a9a" stroke-width="0.7"/>
<line x1="301" y1="107.9" x2="304.2" y2="107.9" stroke="#3c3c3c" stroke-width="0.9"/>
<line x1="301" y1="101.69" x2="302.6" y2="101.69" stroke="#9a9a9a" stroke-width="0.7"/>
<line x1="301" y1="95.47" x2="302.6" y2="95.47" stroke="#9a9a9a" stroke-width="0.7"/>
<line x1="301" y1="89.26" x2="302.6" y2="89.26" stroke="#9a9a9a" stroke-width="0.7"/>
<line x1="301" y1="83.05" x2="304.2" y2="83.05" stroke="#3c3c3c" stroke-width="0.9"/>
<line x1="301" y1="76.84" x2="302.6" y2="76.84" stroke="#9a9a9a" stroke-width="0.7"/>
<line x1="301" y1="70.62" x2="302.6" y2="70.62" stroke="#9a9a9a" stroke-width="0.7"/>
<line x1="301" y1="64.41" x2="302.6" y2="64.41" stroke="#9a9a9a" stroke-width="0.7"/>
<line x1="301" y1="58.2" x2="304.2" y2="58.2" stroke="#3c3c3c" stroke-width="0.9"/>
<line x1="301" y1="51.99" x2="302.6" y2="51.99" stroke="#9a9a9a" stroke-width="0.7"/>
<line x1="301" y1="45.78" x2="302.6" y2="45.78" stroke="#9a9a9a" stroke-width="0.7"/>
<line x1="301" y1="39.56" x2="302.6" y2="39.56" stroke="#9a9a9a" stroke-width="0.7"/>
<line x1="301" y1="33.35" x2="304.2" y2="33.35" stroke="#3c3c3c" stroke-width="0.9"/>
<line x1="301" y1="27.14" x2="302.6" y2="27.14" stroke="#9a9a9a" stroke-width="0.7"/>
<line x1="301" y1="20.92" x2="302.6" y2="20.92" stroke="#9a9a9a" stroke-width="0.7"/>
<line x1="301" y1="14.71" x2="302.6" y2="14.71" stroke="#9a9a9a" stroke-width="0.7"/>
<line x1="301" y1="157.6" x2="301" y2="156" stroke="#8a8a8a" stroke-width="0.8"/>
<line x1="310.62" y1="157.6" x2="310.62" y2="156" stroke="#8a8a8a" stroke-width="0.8"/>
<line x1="318.08" y1="157.6" x2="318.08" y2="156" stroke="#8a8a8a" stroke-width="0.8"/>
<line x1="324.17" y1="157.6" x2="324.17" y2="156" stroke="#8a8a8a" stroke-width="0.8"/>
<line x1="329.33" y1="157.6" x2="329.33" y2="156" stroke="#8a8a8a" stroke-width="0.8"/>
<line x1="333.79" y1="157.6" x2="333.79" y2="156" stroke="#8a8a8a" stroke-width="0.8"/>
<line x1="337.73" y1="157.6" x2="337.73" y2="156" stroke="#8a8a8a" stroke-width="0.8"/>
<line x1="341.25" y1="157.6" x2="341.25" y2="154.4" stroke="#3c3c3c" stroke-width="0.9"/>
<line x1="364.43" y1="157.6" x2="364.43" y2="156" stroke="#8a8a8a" stroke-width="0.8"/>
<line x1="377.99" y1="157.6" x2="377.99" y2="156" stroke="#8a8a8a" stroke-width="0.8"/>
<line x1="387.6" y1="157.6" x2="387.6" y2="156" stroke="#8a8a8a" stroke-width="0.8"/>
<line x1="395.06" y1="157.6" x2="395.06" y2="156" stroke="#8a8a8a" stroke-width="0.8"/>
<line x1="401.16" y1="157.6" x2="401.16" y2="156" stroke="#8a8a8a" stroke-width="0.8"/>
<line x1="406.31" y1="157.6" x2="406.31" y2="156" stroke="#8a8a8a" stroke-width="0.8"/>
<line x1="410.78" y1="157.6" x2="410.78" y2="156" stroke="#8a8a8a" stroke-width="0.8"/>
<line x1="414.72" y1="157.6" x2="414.72" y2="156" stroke="#8a8a8a" stroke-width="0.8"/>
<line x1="418.24" y1="157.6" x2="418.24" y2="154.4" stroke="#3c3c3c" stroke-width="0.9"/>
<line x1="441.41" y1="157.6" x2="441.41" y2="156" stroke="#8a8a8a" stroke-width="0.8"/>
<line x1="454.97" y1="157.6" x2="454.97" y2="156" stroke="#8a8a8a" stroke-width="0.8"/>
<line x1="464.59" y1="157.6" x2="464.59" y2="156" stroke="#8a8a8a" stroke-width="0.8"/>
<line x1="472.05" y1="157.6" x2="472.05" y2="156" stroke="#8a8a8a" stroke-width="0.8"/>
<line x1="478.15" y1="157.6" x2="478.15" y2="156" stroke="#8a8a8a" stroke-width="0.8"/>
<line x1="483.3" y1="157.6" x2="483.3" y2="156" stroke="#8a8a8a" stroke-width="0.8"/>
<line x1="487.76" y1="157.6" x2="487.76" y2="156" stroke="#8a8a8a" stroke-width="0.8"/>
<line x1="491.7" y1="157.6" x2="491.7" y2="156" stroke="#8a8a8a" stroke-width="0.8"/>
<line x1="495.23" y1="157.6" x2="495.23" y2="154.4" stroke="#3c3c3c" stroke-width="0.9"/>
<line x1="518.4" y1="157.6" x2="518.4" y2="156" stroke="#8a8a8a" stroke-width="0.8"/>
<text x="298.6" y="160.9" class="tl" text-anchor="end">0</text>
<text x="298.6" y="136.05" class="tl" text-anchor="end">0.2</text>
<text x="298.6" y="111.2" class="tl" text-anchor="end">0.4</text>
<text x="298.6" y="86.35" class="tl" text-anchor="end">0.6</text>
<text x="298.6" y="61.5" class="tl" text-anchor="end">0.8</text>
<text x="298.6" y="36.65" class="tl" text-anchor="end">1</text>
<text x="298.6" y="11.8" class="tl" text-anchor="end">1.2</text>
<text x="335.65" y="168.2" class="tl">10<tspan class="sup" dy="-3.6">0</tspan></text>
<text x="412.64" y="168.2" class="tl">10<tspan class="sup" dy="-3.6">1</tspan></text>
<text x="489.63" y="168.2" class="tl">10<tspan class="sup" dy="-3.6">2</tspan></text>
<text x="404.04" y="174.9" class="al">y<tspan class="alsub" dx="0.6" dy="2.6">+</tspan></text>
<g class="yl" transform="translate(280.5 132.1) rotate(-90)"><text x="3" y="0" text-anchor="middle" style="font-size:13px">&lt;</text><text x="9.2" y="0" text-anchor="middle" style="font-size:13px">u</text><text x="13.6" y="-6" text-anchor="middle" style="font-size:7px">′</text><text x="16.3" y="3.6" text-anchor="middle" style="font-size:7px">r</text><text x="23.8" y="0" text-anchor="middle" style="font-size:13px">u</text><text x="27.6" y="-6" text-anchor="middle" style="font-size:7px">′</text><text x="30.6" y="-6" text-anchor="middle" style="font-size:7px">2</text><text x="30" y="3.6" text-anchor="middle" style="font-size:7px">z</text><text x="35.8" y="0" text-anchor="middle" style="font-size:13px">&gt;</text><text x="42.4" y="-6.2" text-anchor="middle" style="font-size:7px">+</text><text x="49.2" y="0" text-anchor="middle" style="font-size:13px">;</text><text x="55.7" y="0" text-anchor="middle" style="font-size:13px">&lt;</text><text x="61.7" y="0" text-anchor="middle" style="font-size:13px">v</text><text x="66" y="-6" text-anchor="middle" style="font-size:7px">′</text><text x="68.9" y="3.6" text-anchor="middle" style="font-size:7px">r</text><text x="76.2" y="0" text-anchor="middle" style="font-size:13px">v</text><text x="80" y="-6" text-anchor="middle" style="font-size:7px">′</text><text x="83" y="-6" text-anchor="middle" style="font-size:7px">2</text><text x="82.4" y="3.6" text-anchor="middle" style="font-size:7px">z</text><text x="90" y="0" text-anchor="middle" style="font-size:13px">&gt;</text><text x="96.4" y="-6.2" text-anchor="middle" style="font-size:7px">+</text></g>
<rect x="168.8" y="208.4" width="217.6" height="149.3" fill="none" stroke="#3c3c3c" stroke-width="1.05"/>
<line x1="168.8" y1="351.48" x2="170.4" y2="351.48" stroke="#9a9a9a" stroke-width="0.7"/>
<line x1="168.8" y1="345.26" x2="170.4" y2="345.26" stroke="#9a9a9a" stroke-width="0.7"/>
<line x1="168.8" y1="339.04" x2="170.4" y2="339.04" stroke="#9a9a9a" stroke-width="0.7"/>
<line x1="168.8" y1="332.82" x2="172" y2="332.82" stroke="#3c3c3c" stroke-width="0.9"/>
<line x1="168.8" y1="326.6" x2="170.4" y2="326.6" stroke="#9a9a9a" stroke-width="0.7"/>
<line x1="168.8" y1="320.38" x2="170.4" y2="320.38" stroke="#9a9a9a" stroke-width="0.7"/>
<line x1="168.8" y1="314.15" x2="170.4" y2="314.15" stroke="#9a9a9a" stroke-width="0.7"/>
<line x1="168.8" y1="307.93" x2="172" y2="307.93" stroke="#3c3c3c" stroke-width="0.9"/>
<line x1="168.8" y1="301.71" x2="170.4" y2="301.71" stroke="#9a9a9a" stroke-width="0.7"/>
<line x1="168.8" y1="295.49" x2="170.4" y2="295.49" stroke="#9a9a9a" stroke-width="0.7"/>
<line x1="168.8" y1="289.27" x2="170.4" y2="289.27" stroke="#9a9a9a" stroke-width="0.7"/>
<line x1="168.8" y1="283.05" x2="172" y2="283.05" stroke="#3c3c3c" stroke-width="0.9"/>
<line x1="168.8" y1="276.83" x2="170.4" y2="276.83" stroke="#9a9a9a" stroke-width="0.7"/>
<line x1="168.8" y1="270.61" x2="170.4" y2="270.61" stroke="#9a9a9a" stroke-width="0.7"/>
<line x1="168.8" y1="264.39" x2="170.4" y2="264.39" stroke="#9a9a9a" stroke-width="0.7"/>
<line x1="168.8" y1="258.17" x2="172" y2="258.17" stroke="#3c3c3c" stroke-width="0.9"/>
<line x1="168.8" y1="251.95" x2="170.4" y2="251.95" stroke="#9a9a9a" stroke-width="0.7"/>
<line x1="168.8" y1="245.72" x2="170.4" y2="245.72" stroke="#9a9a9a" stroke-width="0.7"/>
<line x1="168.8" y1="239.5" x2="170.4" y2="239.5" stroke="#9a9a9a" stroke-width="0.7"/>
<line x1="168.8" y1="233.28" x2="172" y2="233.28" stroke="#3c3c3c" stroke-width="0.9"/>
<line x1="168.8" y1="227.06" x2="170.4" y2="227.06" stroke="#9a9a9a" stroke-width="0.7"/>
<line x1="168.8" y1="220.84" x2="170.4" y2="220.84" stroke="#9a9a9a" stroke-width="0.7"/>
<line x1="168.8" y1="214.62" x2="170.4" y2="214.62" stroke="#9a9a9a" stroke-width="0.7"/>
<line x1="168.8" y1="357.7" x2="168.8" y2="356.1" stroke="#8a8a8a" stroke-width="0.8"/>
<line x1="178.43" y1="357.7" x2="178.43" y2="356.1" stroke="#8a8a8a" stroke-width="0.8"/>
<line x1="185.89" y1="357.7" x2="185.89" y2="356.1" stroke="#8a8a8a" stroke-width="0.8"/>
<line x1="192" y1="357.7" x2="192" y2="356.1" stroke="#8a8a8a" stroke-width="0.8"/>
<line x1="197.15" y1="357.7" x2="197.15" y2="356.1" stroke="#8a8a8a" stroke-width="0.8"/>
<line x1="201.62" y1="357.7" x2="201.62" y2="356.1" stroke="#8a8a8a" stroke-width="0.8"/>
<line x1="205.57" y1="357.7" x2="205.57" y2="356.1" stroke="#8a8a8a" stroke-width="0.8"/>
<line x1="209.09" y1="357.7" x2="209.09" y2="354.5" stroke="#3c3c3c" stroke-width="0.9"/>
<line x1="232.29" y1="357.7" x2="232.29" y2="356.1" stroke="#8a8a8a" stroke-width="0.8"/>
<line x1="245.86" y1="357.7" x2="245.86" y2="356.1" stroke="#8a8a8a" stroke-width="0.8"/>
<line x1="255.48" y1="357.7" x2="255.48" y2="356.1" stroke="#8a8a8a" stroke-width="0.8"/>
<line x1="262.95" y1="357.7" x2="262.95" y2="356.1" stroke="#8a8a8a" stroke-width="0.8"/>
<line x1="269.05" y1="357.7" x2="269.05" y2="356.1" stroke="#8a8a8a" stroke-width="0.8"/>
<line x1="274.21" y1="357.7" x2="274.21" y2="356.1" stroke="#8a8a8a" stroke-width="0.8"/>
<line x1="278.68" y1="357.7" x2="278.68" y2="356.1" stroke="#8a8a8a" stroke-width="0.8"/>
<line x1="282.62" y1="357.7" x2="282.62" y2="356.1" stroke="#8a8a8a" stroke-width="0.8"/>
<line x1="286.15" y1="357.7" x2="286.15" y2="354.5" stroke="#3c3c3c" stroke-width="0.9"/>
<line x1="309.34" y1="357.7" x2="309.34" y2="356.1" stroke="#8a8a8a" stroke-width="0.8"/>
<line x1="322.91" y1="357.7" x2="322.91" y2="356.1" stroke="#8a8a8a" stroke-width="0.8"/>
<line x1="332.54" y1="357.7" x2="332.54" y2="356.1" stroke="#8a8a8a" stroke-width="0.8"/>
<line x1="340.01" y1="357.7" x2="340.01" y2="356.1" stroke="#8a8a8a" stroke-width="0.8"/>
<line x1="346.11" y1="357.7" x2="346.11" y2="356.1" stroke="#8a8a8a" stroke-width="0.8"/>
<line x1="351.27" y1="357.7" x2="351.27" y2="356.1" stroke="#8a8a8a" stroke-width="0.8"/>
<line x1="355.74" y1="357.7" x2="355.74" y2="356.1" stroke="#8a8a8a" stroke-width="0.8"/>
<line x1="359.68" y1="357.7" x2="359.68" y2="356.1" stroke="#8a8a8a" stroke-width="0.8"/>
<line x1="363.2" y1="357.7" x2="363.2" y2="354.5" stroke="#3c3c3c" stroke-width="0.9"/>
<line x1="386.4" y1="357.7" x2="386.4" y2="356.1" stroke="#8a8a8a" stroke-width="0.8"/>
<text x="166.4" y="361" class="tl" text-anchor="end">0</text>
<text x="166.4" y="336.12" class="tl" text-anchor="end">0.2</text>
<text x="166.4" y="311.23" class="tl" text-anchor="end">0.4</text>
<text x="166.4" y="286.35" class="tl" text-anchor="end">0.6</text>
<text x="166.4" y="261.47" class="tl" text-anchor="end">0.8</text>
<text x="166.4" y="236.58" class="tl" text-anchor="end">1</text>
<text x="166.4" y="211.7" class="tl" text-anchor="end">1.2</text>
<text x="203.49" y="368.3" class="tl">10<tspan class="sup" dy="-3.6">0</tspan></text>
<text x="280.55" y="368.3" class="tl">10<tspan class="sup" dy="-3.6">1</tspan></text>
<text x="357.6" y="368.3" class="tl">10<tspan class="sup" dy="-3.6">2</tspan></text>
<text x="271.95" y="375" class="al">y<tspan class="alsub" dx="0.6" dy="2.6">+</tspan></text>
<g class="yl" transform="translate(148.3 332) rotate(-90)"><text x="3" y="0" text-anchor="middle" style="font-size:13px">&lt;</text><text x="9.2" y="0" text-anchor="middle" style="font-size:13px">u</text><text x="13.6" y="-6" text-anchor="middle" style="font-size:7px">′</text><text x="16.3" y="3.6" text-anchor="middle" style="font-size:7px">r</text><text x="23.8" y="0" text-anchor="middle" style="font-size:13px">u</text><text x="27.6" y="-6" text-anchor="middle" style="font-size:7px">′</text><text x="30.6" y="-6" text-anchor="middle" style="font-size:7px">2</text><text x="30" y="3.6" text-anchor="middle" style="font-size:7px">z</text><text x="35.8" y="0" text-anchor="middle" style="font-size:13px">&gt;</text><text x="42.4" y="-6.2" text-anchor="middle" style="font-size:7px">+</text><text x="49.2" y="0" text-anchor="middle" style="font-size:13px">;</text><text x="55.7" y="0" text-anchor="middle" style="font-size:13px">&lt;</text><text x="61.7" y="0" text-anchor="middle" style="font-size:13px">v</text><text x="66" y="-6" text-anchor="middle" style="font-size:7px">′</text><text x="68.9" y="3.6" text-anchor="middle" style="font-size:7px">r</text><text x="76.2" y="0" text-anchor="middle" style="font-size:13px">v</text><text x="80" y="-6" text-anchor="middle" style="font-size:7px">′</text><text x="83" y="-6" text-anchor="middle" style="font-size:7px">2</text><text x="82.4" y="3.6" text-anchor="middle" style="font-size:7px">z</text><text x="90" y="0" text-anchor="middle" style="font-size:13px">&gt;</text><text x="96.4" y="-6.2" text-anchor="middle" style="font-size:7px">+</text></g>
<text x="0.4" y="10.4" class="pl">(a)</text>
<text x="264.8" y="10.4" class="pl">(b)</text>
<text x="134.4" y="210.2" class="pl">(c)</text>
<line x1="41.7" y1="16.9" x2="85" y2="16.9" stroke="#8a8a8a" stroke-width="1"/>
<path d="M63.3 24.6L66.2 27.5L63.3 30.4L60.4 27.5Z" stroke="#555" stroke-width="1.0" fill="none"/>
<text x="92.7" y="19.4" class="lg">fluid</text>
<text x="92.7" y="30" class="lg">particles</text>
<line x1="307.4" y1="18.5" x2="350.5" y2="18.5" stroke="#333" stroke-width="1"/>
<path d="M329 27.6L331.9 30.5L329 33.4L326.1 30.5Z" stroke="#555" stroke-width="1.0" fill="none"/>
<text x="358.8" y="21.4" class="lg">fluid</text>
<text x="358.8" y="32.2" class="lg">particles</text>
<line x1="176" y1="217" x2="218.8" y2="217" stroke="#8a8a8a" stroke-width="1"/>
<path d="M196.9 225.9L199.8 228.8L196.9 231.7L194 228.8Z" stroke="#555" stroke-width="1.0" fill="none"/>
<text x="226.9" y="220.7" class="lg">fluid</text>
<text x="226.9" y="232.2" class="lg">particles</text>
<text x="132.4" y="17.2" class="lg">St<tspan class="sub" dy="2">+</tspan><tspan dy="-2">=10&#160;&#160;</tspan><tspan class="gr">ρ</tspan><tspan class="sub" dy="2">p</tspan><tspan dy="-2">/</tspan><tspan class="gr">ρ</tspan><tspan class="sub" dy="2">f</tspan><tspan dy="-2">=180</tspan></text>
<text x="428.7" y="22.2" class="lg"><tspan class="gr">ϕ</tspan>=0.4&#160;&#160;<tspan class="gr">ρ</tspan><tspan class="sub" dy="2">p</tspan><tspan dy="-2">/</tspan><tspan class="gr">ρ</tspan><tspan class="sub" dy="2">f</tspan><tspan dy="-2">=180</tspan></text>
<text x="298" y="218.1" class="lg"><tspan class="gr">ϕ</tspan>=0.4&#160;&#160;St<tspan class="sub" dy="2">+</tspan><tspan dy="-2">=10</tspan></text>
<text x="40.5" y="45.0" class="lg" style="fill:#333333;color:#333333"><tspan class="gr">ϕ</tspan>=0</text>
<text x="40.5" y="56.8" class="lg" style="fill:#c4424e;color:#c4424e"><tspan class="gr">ϕ</tspan>=0.2</text>
<text x="40.5" y="68.6" class="lg" style="fill:#5555cf;color:#5555cf"><tspan class="gr">ϕ</tspan>=0.4</text>
<text x="40.5" y="82.0" class="lg" style="fill:#eaa64e;color:#eaa64e"><tspan class="gr">ϕ</tspan>=0.6</text>
<text x="308.7" y="54.5" class="lg" style="fill:#333333;color:#333333">St<tspan class="sub" dy="2">+</tspan><tspan dy="-2">=10</tspan></text>
<text x="308.7" y="65.6" class="lg" style="fill:#c4424e;color:#c4424e">St<tspan class="sub" dy="2">+</tspan><tspan dy="-2">=15</tspan></text>
<text x="308.7" y="76.6" class="lg" style="fill:#5555cf;color:#5555cf">St<tspan class="sub" dy="2">+</tspan><tspan dy="-2">=20</tspan></text>
<text x="308.7" y="87.9" class="lg" style="fill:#eaa64e;color:#eaa64e">St<tspan class="sub" dy="2">+</tspan><tspan dy="-2">=80</tspan></text>
<text x="179.4" y="255.8" class="lg" style="fill:#333333;color:#333333"><tspan class="gr">ρ</tspan><tspan class="sub" dy="2">p</tspan><tspan dy="-2">/</tspan><tspan class="gr">ρ</tspan><tspan class="sub" dy="2">f</tspan><tspan dy="-2">=90</tspan></text>
<text x="179.4" y="268.4" class="lg" style="fill:#c4424e;color:#c4424e"><tspan class="gr">ρ</tspan><tspan class="sub" dy="2">p</tspan><tspan dy="-2">/</tspan><tspan class="gr">ρ</tspan><tspan class="sub" dy="2">f</tspan><tspan dy="-2">=180</tspan></text>
<text x="179.4" y="280.8" class="lg" style="fill:#5555cf;color:#5555cf"><tspan class="gr">ρ</tspan><tspan class="sub" dy="2">p</tspan><tspan dy="-2">/</tspan><tspan class="gr">ρ</tspan><tspan class="sub" dy="2">f</tspan><tspan dy="-2">=360</tspan></text>
<text x="179.4" y="293.4" class="lg" style="fill:#eaa64e;color:#eaa64e"><tspan class="gr">ρ</tspan><tspan class="sub" dy="2">p</tspan><tspan dy="-2">/</tspan><tspan class="gr">ρ</tspan><tspan class="sub" dy="2">f</tspan><tspan dy="-2">=560</tspan></text>
<line x1="33.5" y1="145.1" x2="50.5" y2="145.1" stroke="#333" stroke-width="1.1"/><line x1="50.5" y1="141.5" x2="50.5" y2="148.7" stroke="#333" stroke-width="1.1"/>
<text x="54.8" y="148.2" class="ap" style="fill:#333;color:#333">a<tspan class="apsup" dy="-5.5">+</tspan><tspan class="apsub" dx="-3.6" dy="8">p</tspan></text>
<line x1="301" y1="139.3" x2="345.7" y2="139.3" stroke="#eeac58" stroke-width="1.4"/><line x1="345.7" y1="136.4" x2="345.7" y2="142.2" stroke="#eeac58" stroke-width="1.4"/>
<text x="348.6" y="139.8" class="ap" style="fill:#f0c088;color:#f0c088">a<tspan class="apsup" dy="-5.5">+</tspan><tspan class="apsub" dx="-3.6" dy="8">p</tspan></text>
<line x1="303.4" y1="151.9" x2="320.3" y2="151.9" stroke="#333" stroke-width="1.1"/><line x1="320.3" y1="148.8" x2="320.3" y2="155" stroke="#333" stroke-width="1.1"/>
<text x="325" y="153.6" class="ap" style="fill:#333;color:#333">a<tspan class="apsup" dy="-5.5">+</tspan><tspan class="apsub" dx="-3.6" dy="8">p</tspan></text>
<line x1="168.8" y1="332.6" x2="194.2" y2="332.6" stroke="#333" stroke-width="1.1"/><line x1="194.2" y1="329.2" x2="194.2" y2="336" stroke="#333" stroke-width="1.1"/>
<text x="197.2" y="336.3" class="ap" style="fill:#333;color:#333">a<tspan class="apsup" dy="-5.5">+</tspan><tspan class="apsub" dx="-3.6" dy="8">p</tspan></text>
<line x1="168.8" y1="345" x2="173" y2="345" stroke="#efbb80" stroke-width="1.2"/><line x1="173" y1="342.3" x2="173" y2="347.7" stroke="#efbb80" stroke-width="1.2"/>
<text x="176.4" y="347.2" class="ap" style="fill:#efbb80;color:#efbb80">a<tspan class="apsup" dy="-5.5">+</tspan><tspan class="apsub" dx="-3.6" dy="8">p</tspan></text>
</g>
</svg>
</body></html>
